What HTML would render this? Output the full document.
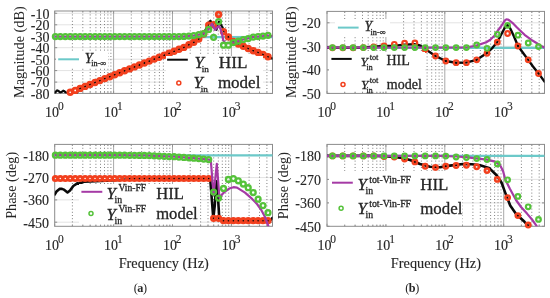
<!DOCTYPE html>
<html><head><meta charset="utf-8"><title>Figure</title>
<style>html,body{margin:0;padding:0;background:#fff;} svg{display:block;} text{stroke:#262626;stroke-width:0.12px;} text.lg{stroke-width:0.3px;}</style>
</head><body>
<svg width="550" height="298" viewBox="0 0 550 298" font-family="'Liberation Serif', serif">
<defs>
<clipPath id="cTL"><rect x="54.7" y="11.0" width="217.8" height="82.4"/></clipPath>
<clipPath id="cTR"><rect x="327.0" y="11.4" width="217.5" height="82.0"/></clipPath>
<clipPath id="cBL"><rect x="54.7" y="144.4" width="217.8" height="81.9"/></clipPath>
<clipPath id="cBR"><rect x="327.0" y="144.4" width="217.5" height="81.9"/></clipPath>
</defs>
<rect width="550" height="298" fill="#fff"/>
<line x1="54.7" y1="13.3" x2="272.5" y2="13.3" stroke="#e3e3e3" stroke-width="1"/>
<line x1="54.7" y1="24.8" x2="272.5" y2="24.8" stroke="#e3e3e3" stroke-width="1"/>
<line x1="54.7" y1="36.3" x2="272.5" y2="36.3" stroke="#e3e3e3" stroke-width="1"/>
<line x1="54.7" y1="47.7" x2="272.5" y2="47.7" stroke="#e3e3e3" stroke-width="1"/>
<line x1="54.7" y1="59.2" x2="272.5" y2="59.2" stroke="#e3e3e3" stroke-width="1"/>
<line x1="54.7" y1="70.6" x2="272.5" y2="70.6" stroke="#e3e3e3" stroke-width="1"/>
<line x1="54.7" y1="82.1" x2="272.5" y2="82.1" stroke="#e3e3e3" stroke-width="1"/>
<line x1="72.4" y1="11.2" x2="72.4" y2="93.4" stroke="#707070" stroke-width="0.9" stroke-dasharray="1 2.2"/>
<line x1="82.8" y1="11.2" x2="82.8" y2="93.4" stroke="#707070" stroke-width="0.9" stroke-dasharray="1 2.2"/>
<line x1="90.2" y1="11.2" x2="90.2" y2="93.4" stroke="#707070" stroke-width="0.9" stroke-dasharray="1 2.2"/>
<line x1="95.9" y1="11.2" x2="95.9" y2="93.4" stroke="#707070" stroke-width="0.9" stroke-dasharray="1 2.2"/>
<line x1="100.5" y1="11.2" x2="100.5" y2="93.4" stroke="#707070" stroke-width="0.9" stroke-dasharray="1 2.2"/>
<line x1="104.5" y1="11.2" x2="104.5" y2="93.4" stroke="#707070" stroke-width="0.9" stroke-dasharray="1 2.2"/>
<line x1="107.9" y1="11.2" x2="107.9" y2="93.4" stroke="#707070" stroke-width="0.9" stroke-dasharray="1 2.2"/>
<line x1="110.9" y1="11.2" x2="110.9" y2="93.4" stroke="#707070" stroke-width="0.9" stroke-dasharray="1 2.2"/>
<line x1="113.6" y1="11.0" x2="113.6" y2="93.4" stroke="#a8a8a8" stroke-width="1"/>
<line x1="131.3" y1="11.2" x2="131.3" y2="93.4" stroke="#707070" stroke-width="0.9" stroke-dasharray="1 2.2"/>
<line x1="141.7" y1="11.2" x2="141.7" y2="93.4" stroke="#707070" stroke-width="0.9" stroke-dasharray="1 2.2"/>
<line x1="149.1" y1="11.2" x2="149.1" y2="93.4" stroke="#707070" stroke-width="0.9" stroke-dasharray="1 2.2"/>
<line x1="154.8" y1="11.2" x2="154.8" y2="93.4" stroke="#707070" stroke-width="0.9" stroke-dasharray="1 2.2"/>
<line x1="159.4" y1="11.2" x2="159.4" y2="93.4" stroke="#707070" stroke-width="0.9" stroke-dasharray="1 2.2"/>
<line x1="163.4" y1="11.2" x2="163.4" y2="93.4" stroke="#707070" stroke-width="0.9" stroke-dasharray="1 2.2"/>
<line x1="166.8" y1="11.2" x2="166.8" y2="93.4" stroke="#707070" stroke-width="0.9" stroke-dasharray="1 2.2"/>
<line x1="169.8" y1="11.2" x2="169.8" y2="93.4" stroke="#707070" stroke-width="0.9" stroke-dasharray="1 2.2"/>
<line x1="172.5" y1="11.0" x2="172.5" y2="93.4" stroke="#a8a8a8" stroke-width="1"/>
<line x1="190.2" y1="11.2" x2="190.2" y2="93.4" stroke="#707070" stroke-width="0.9" stroke-dasharray="1 2.2"/>
<line x1="200.6" y1="11.2" x2="200.6" y2="93.4" stroke="#707070" stroke-width="0.9" stroke-dasharray="1 2.2"/>
<line x1="208.0" y1="11.2" x2="208.0" y2="93.4" stroke="#707070" stroke-width="0.9" stroke-dasharray="1 2.2"/>
<line x1="213.7" y1="11.2" x2="213.7" y2="93.4" stroke="#707070" stroke-width="0.9" stroke-dasharray="1 2.2"/>
<line x1="218.3" y1="11.2" x2="218.3" y2="93.4" stroke="#707070" stroke-width="0.9" stroke-dasharray="1 2.2"/>
<line x1="222.3" y1="11.2" x2="222.3" y2="93.4" stroke="#707070" stroke-width="0.9" stroke-dasharray="1 2.2"/>
<line x1="225.7" y1="11.2" x2="225.7" y2="93.4" stroke="#707070" stroke-width="0.9" stroke-dasharray="1 2.2"/>
<line x1="228.7" y1="11.2" x2="228.7" y2="93.4" stroke="#707070" stroke-width="0.9" stroke-dasharray="1 2.2"/>
<line x1="231.4" y1="11.0" x2="231.4" y2="93.4" stroke="#a8a8a8" stroke-width="1"/>
<line x1="249.1" y1="11.2" x2="249.1" y2="93.4" stroke="#707070" stroke-width="0.9" stroke-dasharray="1 2.2"/>
<line x1="259.5" y1="11.2" x2="259.5" y2="93.4" stroke="#707070" stroke-width="0.9" stroke-dasharray="1 2.2"/>
<line x1="266.9" y1="11.2" x2="266.9" y2="93.4" stroke="#707070" stroke-width="0.9" stroke-dasharray="1 2.2"/>
<rect x="54.7" y="11.0" width="217.8" height="82.4" fill="none" stroke="#8c8c8c" stroke-width="1"/>
<line x1="54.7" y1="13.3" x2="57.2" y2="13.3" stroke="#8c8c8c" stroke-width="1"/>
<line x1="270.0" y1="13.3" x2="272.5" y2="13.3" stroke="#8c8c8c" stroke-width="1"/>
<line x1="54.7" y1="24.8" x2="57.2" y2="24.8" stroke="#8c8c8c" stroke-width="1"/>
<line x1="270.0" y1="24.8" x2="272.5" y2="24.8" stroke="#8c8c8c" stroke-width="1"/>
<line x1="54.7" y1="36.3" x2="57.2" y2="36.3" stroke="#8c8c8c" stroke-width="1"/>
<line x1="270.0" y1="36.3" x2="272.5" y2="36.3" stroke="#8c8c8c" stroke-width="1"/>
<line x1="54.7" y1="47.7" x2="57.2" y2="47.7" stroke="#8c8c8c" stroke-width="1"/>
<line x1="270.0" y1="47.7" x2="272.5" y2="47.7" stroke="#8c8c8c" stroke-width="1"/>
<line x1="54.7" y1="59.2" x2="57.2" y2="59.2" stroke="#8c8c8c" stroke-width="1"/>
<line x1="270.0" y1="59.2" x2="272.5" y2="59.2" stroke="#8c8c8c" stroke-width="1"/>
<line x1="54.7" y1="70.6" x2="57.2" y2="70.6" stroke="#8c8c8c" stroke-width="1"/>
<line x1="270.0" y1="70.6" x2="272.5" y2="70.6" stroke="#8c8c8c" stroke-width="1"/>
<line x1="54.7" y1="82.1" x2="57.2" y2="82.1" stroke="#8c8c8c" stroke-width="1"/>
<line x1="270.0" y1="82.1" x2="272.5" y2="82.1" stroke="#8c8c8c" stroke-width="1"/>
<line x1="54.7" y1="93.5" x2="57.2" y2="93.5" stroke="#8c8c8c" stroke-width="1"/>
<line x1="270.0" y1="93.5" x2="272.5" y2="93.5" stroke="#8c8c8c" stroke-width="1"/>
<line x1="54.7" y1="93.4" x2="54.7" y2="90.9" stroke="#8c8c8c" stroke-width="0.8"/>
<line x1="54.7" y1="11.0" x2="54.7" y2="13.5" stroke="#8c8c8c" stroke-width="0.8"/>
<line x1="72.4" y1="93.4" x2="72.4" y2="91.9" stroke="#8c8c8c" stroke-width="0.8"/>
<line x1="72.4" y1="11.0" x2="72.4" y2="12.5" stroke="#8c8c8c" stroke-width="0.8"/>
<line x1="82.8" y1="93.4" x2="82.8" y2="91.9" stroke="#8c8c8c" stroke-width="0.8"/>
<line x1="82.8" y1="11.0" x2="82.8" y2="12.5" stroke="#8c8c8c" stroke-width="0.8"/>
<line x1="90.2" y1="93.4" x2="90.2" y2="91.9" stroke="#8c8c8c" stroke-width="0.8"/>
<line x1="90.2" y1="11.0" x2="90.2" y2="12.5" stroke="#8c8c8c" stroke-width="0.8"/>
<line x1="95.9" y1="93.4" x2="95.9" y2="91.9" stroke="#8c8c8c" stroke-width="0.8"/>
<line x1="95.9" y1="11.0" x2="95.9" y2="12.5" stroke="#8c8c8c" stroke-width="0.8"/>
<line x1="100.5" y1="93.4" x2="100.5" y2="91.9" stroke="#8c8c8c" stroke-width="0.8"/>
<line x1="100.5" y1="11.0" x2="100.5" y2="12.5" stroke="#8c8c8c" stroke-width="0.8"/>
<line x1="104.5" y1="93.4" x2="104.5" y2="91.9" stroke="#8c8c8c" stroke-width="0.8"/>
<line x1="104.5" y1="11.0" x2="104.5" y2="12.5" stroke="#8c8c8c" stroke-width="0.8"/>
<line x1="107.9" y1="93.4" x2="107.9" y2="91.9" stroke="#8c8c8c" stroke-width="0.8"/>
<line x1="107.9" y1="11.0" x2="107.9" y2="12.5" stroke="#8c8c8c" stroke-width="0.8"/>
<line x1="110.9" y1="93.4" x2="110.9" y2="91.9" stroke="#8c8c8c" stroke-width="0.8"/>
<line x1="110.9" y1="11.0" x2="110.9" y2="12.5" stroke="#8c8c8c" stroke-width="0.8"/>
<line x1="113.6" y1="93.4" x2="113.6" y2="90.9" stroke="#8c8c8c" stroke-width="0.8"/>
<line x1="113.6" y1="11.0" x2="113.6" y2="13.5" stroke="#8c8c8c" stroke-width="0.8"/>
<line x1="131.3" y1="93.4" x2="131.3" y2="91.9" stroke="#8c8c8c" stroke-width="0.8"/>
<line x1="131.3" y1="11.0" x2="131.3" y2="12.5" stroke="#8c8c8c" stroke-width="0.8"/>
<line x1="141.7" y1="93.4" x2="141.7" y2="91.9" stroke="#8c8c8c" stroke-width="0.8"/>
<line x1="141.7" y1="11.0" x2="141.7" y2="12.5" stroke="#8c8c8c" stroke-width="0.8"/>
<line x1="149.1" y1="93.4" x2="149.1" y2="91.9" stroke="#8c8c8c" stroke-width="0.8"/>
<line x1="149.1" y1="11.0" x2="149.1" y2="12.5" stroke="#8c8c8c" stroke-width="0.8"/>
<line x1="154.8" y1="93.4" x2="154.8" y2="91.9" stroke="#8c8c8c" stroke-width="0.8"/>
<line x1="154.8" y1="11.0" x2="154.8" y2="12.5" stroke="#8c8c8c" stroke-width="0.8"/>
<line x1="159.4" y1="93.4" x2="159.4" y2="91.9" stroke="#8c8c8c" stroke-width="0.8"/>
<line x1="159.4" y1="11.0" x2="159.4" y2="12.5" stroke="#8c8c8c" stroke-width="0.8"/>
<line x1="163.4" y1="93.4" x2="163.4" y2="91.9" stroke="#8c8c8c" stroke-width="0.8"/>
<line x1="163.4" y1="11.0" x2="163.4" y2="12.5" stroke="#8c8c8c" stroke-width="0.8"/>
<line x1="166.8" y1="93.4" x2="166.8" y2="91.9" stroke="#8c8c8c" stroke-width="0.8"/>
<line x1="166.8" y1="11.0" x2="166.8" y2="12.5" stroke="#8c8c8c" stroke-width="0.8"/>
<line x1="169.8" y1="93.4" x2="169.8" y2="91.9" stroke="#8c8c8c" stroke-width="0.8"/>
<line x1="169.8" y1="11.0" x2="169.8" y2="12.5" stroke="#8c8c8c" stroke-width="0.8"/>
<line x1="172.5" y1="93.4" x2="172.5" y2="90.9" stroke="#8c8c8c" stroke-width="0.8"/>
<line x1="172.5" y1="11.0" x2="172.5" y2="13.5" stroke="#8c8c8c" stroke-width="0.8"/>
<line x1="190.2" y1="93.4" x2="190.2" y2="91.9" stroke="#8c8c8c" stroke-width="0.8"/>
<line x1="190.2" y1="11.0" x2="190.2" y2="12.5" stroke="#8c8c8c" stroke-width="0.8"/>
<line x1="200.6" y1="93.4" x2="200.6" y2="91.9" stroke="#8c8c8c" stroke-width="0.8"/>
<line x1="200.6" y1="11.0" x2="200.6" y2="12.5" stroke="#8c8c8c" stroke-width="0.8"/>
<line x1="208.0" y1="93.4" x2="208.0" y2="91.9" stroke="#8c8c8c" stroke-width="0.8"/>
<line x1="208.0" y1="11.0" x2="208.0" y2="12.5" stroke="#8c8c8c" stroke-width="0.8"/>
<line x1="213.7" y1="93.4" x2="213.7" y2="91.9" stroke="#8c8c8c" stroke-width="0.8"/>
<line x1="213.7" y1="11.0" x2="213.7" y2="12.5" stroke="#8c8c8c" stroke-width="0.8"/>
<line x1="218.3" y1="93.4" x2="218.3" y2="91.9" stroke="#8c8c8c" stroke-width="0.8"/>
<line x1="218.3" y1="11.0" x2="218.3" y2="12.5" stroke="#8c8c8c" stroke-width="0.8"/>
<line x1="222.3" y1="93.4" x2="222.3" y2="91.9" stroke="#8c8c8c" stroke-width="0.8"/>
<line x1="222.3" y1="11.0" x2="222.3" y2="12.5" stroke="#8c8c8c" stroke-width="0.8"/>
<line x1="225.7" y1="93.4" x2="225.7" y2="91.9" stroke="#8c8c8c" stroke-width="0.8"/>
<line x1="225.7" y1="11.0" x2="225.7" y2="12.5" stroke="#8c8c8c" stroke-width="0.8"/>
<line x1="228.7" y1="93.4" x2="228.7" y2="91.9" stroke="#8c8c8c" stroke-width="0.8"/>
<line x1="228.7" y1="11.0" x2="228.7" y2="12.5" stroke="#8c8c8c" stroke-width="0.8"/>
<line x1="231.4" y1="93.4" x2="231.4" y2="90.9" stroke="#8c8c8c" stroke-width="0.8"/>
<line x1="231.4" y1="11.0" x2="231.4" y2="13.5" stroke="#8c8c8c" stroke-width="0.8"/>
<line x1="249.1" y1="93.4" x2="249.1" y2="91.9" stroke="#8c8c8c" stroke-width="0.8"/>
<line x1="249.1" y1="11.0" x2="249.1" y2="12.5" stroke="#8c8c8c" stroke-width="0.8"/>
<line x1="259.5" y1="93.4" x2="259.5" y2="91.9" stroke="#8c8c8c" stroke-width="0.8"/>
<line x1="259.5" y1="11.0" x2="259.5" y2="12.5" stroke="#8c8c8c" stroke-width="0.8"/>
<line x1="266.9" y1="93.4" x2="266.9" y2="91.9" stroke="#8c8c8c" stroke-width="0.8"/>
<line x1="266.9" y1="11.0" x2="266.9" y2="12.5" stroke="#8c8c8c" stroke-width="0.8"/>
<g clip-path="url(#cTL)">
<polyline points="54.7,37.2 272.5,37.2" fill="none" stroke="#6cc9c9" stroke-width="2.2" stroke-linejoin="round" stroke-linecap="round"/>
<polyline points="54.9,93.0 56.0,91.5 57.2,90.4 58.6,91.1 60.4,92.6 62.0,91.8 63.2,90.7 64.5,91.3 66.0,92.6 67.5,93.0 69.0,95.5 76.0,95.5 78.5,89.3 80.1,88.4 85.1,86.4 90.0,84.5 95.0,82.5 99.9,80.6 104.8,78.6 109.8,76.7 114.7,74.7 119.7,72.8 124.6,70.8 129.6,68.9 134.5,66.9 139.4,65.0 144.4,63.0 149.3,61.1 154.3,59.1 159.2,57.2 164.2,55.2 169.1,53.3 174.1,51.3 179.0,49.3 183.9,47.4 188.9,44.8 193.8,42.3 198.8,39.1 203.3,34.0 207.0,27.0 209.5,21.6 210.5,20.7 213.0,26.0 216.4,29.8 219.0,21.6 222.3,27.0 225.0,33.0 228.0,36.9 233.4,41.5 238.3,44.0 243.3,46.2 248.2,48.5 253.2,50.7 258.1,52.4 263.0,54.5 268.0,56.8 272.5,58.5" fill="none" stroke="#0a0a0a" stroke-width="2.2" stroke-linejoin="round" stroke-linecap="round"/>
</g>
<circle cx="70.2" cy="92.3" r="2.3" fill="none" stroke="#f2401e" stroke-width="2.8"/>
<circle cx="75.2" cy="90.4" r="2.3" fill="none" stroke="#f2401e" stroke-width="2.8"/>
<circle cx="80.1" cy="88.4" r="2.3" fill="none" stroke="#f2401e" stroke-width="2.8"/>
<circle cx="85.1" cy="86.4" r="2.3" fill="none" stroke="#f2401e" stroke-width="2.8"/>
<circle cx="90.0" cy="84.5" r="2.3" fill="none" stroke="#f2401e" stroke-width="2.8"/>
<circle cx="95.0" cy="82.5" r="2.3" fill="none" stroke="#f2401e" stroke-width="2.8"/>
<circle cx="99.9" cy="80.6" r="2.3" fill="none" stroke="#f2401e" stroke-width="2.8"/>
<circle cx="104.8" cy="78.6" r="2.3" fill="none" stroke="#f2401e" stroke-width="2.8"/>
<circle cx="109.8" cy="76.7" r="2.3" fill="none" stroke="#f2401e" stroke-width="2.8"/>
<circle cx="114.7" cy="74.7" r="2.3" fill="none" stroke="#f2401e" stroke-width="2.8"/>
<circle cx="119.7" cy="72.8" r="2.3" fill="none" stroke="#f2401e" stroke-width="2.8"/>
<circle cx="124.6" cy="70.8" r="2.3" fill="none" stroke="#f2401e" stroke-width="2.8"/>
<circle cx="129.6" cy="68.9" r="2.3" fill="none" stroke="#f2401e" stroke-width="2.8"/>
<circle cx="134.5" cy="66.9" r="2.3" fill="none" stroke="#f2401e" stroke-width="2.8"/>
<circle cx="139.4" cy="65.0" r="2.3" fill="none" stroke="#f2401e" stroke-width="2.8"/>
<circle cx="144.4" cy="63.0" r="2.3" fill="none" stroke="#f2401e" stroke-width="2.8"/>
<circle cx="149.3" cy="61.1" r="2.3" fill="none" stroke="#f2401e" stroke-width="2.8"/>
<circle cx="154.3" cy="59.1" r="2.3" fill="none" stroke="#f2401e" stroke-width="2.8"/>
<circle cx="159.2" cy="57.2" r="2.3" fill="none" stroke="#f2401e" stroke-width="2.8"/>
<circle cx="164.2" cy="55.2" r="2.3" fill="none" stroke="#f2401e" stroke-width="2.8"/>
<circle cx="169.1" cy="53.3" r="2.3" fill="none" stroke="#f2401e" stroke-width="2.8"/>
<circle cx="174.1" cy="51.3" r="2.3" fill="none" stroke="#f2401e" stroke-width="2.8"/>
<circle cx="179.0" cy="49.3" r="2.3" fill="none" stroke="#f2401e" stroke-width="2.8"/>
<circle cx="183.9" cy="47.4" r="2.3" fill="none" stroke="#f2401e" stroke-width="2.8"/>
<circle cx="188.9" cy="44.8" r="2.3" fill="none" stroke="#f2401e" stroke-width="2.8"/>
<circle cx="193.8" cy="42.3" r="2.3" fill="none" stroke="#f2401e" stroke-width="2.8"/>
<circle cx="198.8" cy="39.1" r="2.3" fill="none" stroke="#f2401e" stroke-width="2.8"/>
<circle cx="203.7" cy="34.0" r="2.3" fill="none" stroke="#f2401e" stroke-width="2.8"/>
<circle cx="208.7" cy="25.3" r="2.3" fill="none" stroke="#f2401e" stroke-width="2.8"/>
<circle cx="213.6" cy="24.8" r="2.3" fill="none" stroke="#f2401e" stroke-width="2.8"/>
<circle cx="218.6" cy="14.4" r="2.3" fill="none" stroke="#f2401e" stroke-width="2.8"/>
<circle cx="223.5" cy="31.7" r="2.3" fill="none" stroke="#f2401e" stroke-width="2.8"/>
<circle cx="228.4" cy="36.9" r="2.3" fill="none" stroke="#f2401e" stroke-width="2.8"/>
<circle cx="233.4" cy="41.5" r="2.3" fill="none" stroke="#f2401e" stroke-width="2.8"/>
<circle cx="238.3" cy="44.0" r="2.3" fill="none" stroke="#f2401e" stroke-width="2.8"/>
<circle cx="243.3" cy="46.2" r="2.3" fill="none" stroke="#f2401e" stroke-width="2.8"/>
<circle cx="248.2" cy="48.5" r="2.3" fill="none" stroke="#f2401e" stroke-width="2.8"/>
<circle cx="253.2" cy="50.7" r="2.3" fill="none" stroke="#f2401e" stroke-width="2.8"/>
<circle cx="258.1" cy="52.4" r="2.3" fill="none" stroke="#f2401e" stroke-width="2.8"/>
<circle cx="263.0" cy="54.5" r="2.3" fill="none" stroke="#f2401e" stroke-width="2.8"/>
<circle cx="268.0" cy="56.8" r="2.3" fill="none" stroke="#f2401e" stroke-width="2.8"/>
<g clip-path="url(#cTL)">
<polyline points="54.7,36.5 183.6,36.4 193.4,35.5 198.4,34.7 203.3,33.6 206.0,31.5 208.6,29.4 210.5,26.5 212.0,23.8 213.5,26.5 215.0,29.8 217.0,27.5 219.0,26.0 220.5,29.0 222.0,34.0 223.2,40.0 225.0,42.8 228.0,43.2 232.9,42.5 237.8,41.2 242.7,39.6 247.7,38.5 252.6,37.1 257.5,36.6 262.5,36.0 267.4,35.3 272.5,36.3" fill="none" stroke="#a53aa5" stroke-width="2.2" stroke-linejoin="round" stroke-linecap="round"/>
</g>
<circle cx="55.4" cy="36.5" r="2.45" fill="none" stroke="#55c23a" stroke-width="2.35"/>
<circle cx="60.3" cy="36.5" r="2.45" fill="none" stroke="#55c23a" stroke-width="2.35"/>
<circle cx="65.3" cy="36.5" r="2.45" fill="none" stroke="#55c23a" stroke-width="2.35"/>
<circle cx="70.2" cy="36.5" r="2.45" fill="none" stroke="#55c23a" stroke-width="2.35"/>
<circle cx="75.2" cy="36.5" r="2.45" fill="none" stroke="#55c23a" stroke-width="2.35"/>
<circle cx="80.1" cy="36.5" r="2.45" fill="none" stroke="#55c23a" stroke-width="2.35"/>
<circle cx="85.1" cy="36.5" r="2.45" fill="none" stroke="#55c23a" stroke-width="2.35"/>
<circle cx="90.0" cy="36.5" r="2.45" fill="none" stroke="#55c23a" stroke-width="2.35"/>
<circle cx="95.0" cy="36.5" r="2.45" fill="none" stroke="#55c23a" stroke-width="2.35"/>
<circle cx="99.9" cy="36.5" r="2.45" fill="none" stroke="#55c23a" stroke-width="2.35"/>
<circle cx="104.8" cy="36.5" r="2.45" fill="none" stroke="#55c23a" stroke-width="2.35"/>
<circle cx="109.8" cy="36.5" r="2.45" fill="none" stroke="#55c23a" stroke-width="2.35"/>
<circle cx="114.7" cy="36.5" r="2.45" fill="none" stroke="#55c23a" stroke-width="2.35"/>
<circle cx="119.7" cy="36.5" r="2.45" fill="none" stroke="#55c23a" stroke-width="2.35"/>
<circle cx="124.6" cy="36.5" r="2.45" fill="none" stroke="#55c23a" stroke-width="2.35"/>
<circle cx="129.6" cy="36.5" r="2.45" fill="none" stroke="#55c23a" stroke-width="2.35"/>
<circle cx="134.5" cy="36.5" r="2.45" fill="none" stroke="#55c23a" stroke-width="2.35"/>
<circle cx="139.4" cy="36.5" r="2.45" fill="none" stroke="#55c23a" stroke-width="2.35"/>
<circle cx="144.4" cy="36.5" r="2.45" fill="none" stroke="#55c23a" stroke-width="2.35"/>
<circle cx="149.3" cy="36.5" r="2.45" fill="none" stroke="#55c23a" stroke-width="2.35"/>
<circle cx="154.3" cy="36.5" r="2.45" fill="none" stroke="#55c23a" stroke-width="2.35"/>
<circle cx="159.2" cy="36.5" r="2.45" fill="none" stroke="#55c23a" stroke-width="2.35"/>
<circle cx="164.2" cy="36.5" r="2.45" fill="none" stroke="#55c23a" stroke-width="2.35"/>
<circle cx="169.1" cy="36.5" r="2.45" fill="none" stroke="#55c23a" stroke-width="2.35"/>
<circle cx="174.1" cy="36.5" r="2.45" fill="none" stroke="#55c23a" stroke-width="2.35"/>
<circle cx="179.0" cy="36.5" r="2.45" fill="none" stroke="#55c23a" stroke-width="2.35"/>
<circle cx="183.9" cy="36.4" r="2.45" fill="none" stroke="#55c23a" stroke-width="2.35"/>
<circle cx="188.9" cy="36.1" r="2.45" fill="none" stroke="#55c23a" stroke-width="2.35"/>
<circle cx="193.8" cy="35.5" r="2.45" fill="none" stroke="#55c23a" stroke-width="2.35"/>
<circle cx="198.8" cy="34.7" r="2.45" fill="none" stroke="#55c23a" stroke-width="2.35"/>
<circle cx="203.7" cy="33.6" r="2.45" fill="none" stroke="#55c23a" stroke-width="2.35"/>
<circle cx="208.7" cy="29.4" r="2.45" fill="none" stroke="#55c23a" stroke-width="2.35"/>
<circle cx="213.6" cy="37.3" r="2.45" fill="none" stroke="#55c23a" stroke-width="2.35"/>
<circle cx="218.6" cy="21.6" r="2.45" fill="none" stroke="#55c23a" stroke-width="2.35"/>
<circle cx="223.5" cy="45.2" r="2.45" fill="none" stroke="#55c23a" stroke-width="2.35"/>
<circle cx="228.4" cy="45.2" r="2.45" fill="none" stroke="#55c23a" stroke-width="2.35"/>
<circle cx="233.4" cy="42.5" r="2.45" fill="none" stroke="#55c23a" stroke-width="2.35"/>
<circle cx="238.3" cy="41.2" r="2.45" fill="none" stroke="#55c23a" stroke-width="2.35"/>
<circle cx="243.3" cy="39.6" r="2.45" fill="none" stroke="#55c23a" stroke-width="2.35"/>
<circle cx="248.2" cy="38.5" r="2.45" fill="none" stroke="#55c23a" stroke-width="2.35"/>
<circle cx="253.2" cy="37.1" r="2.45" fill="none" stroke="#55c23a" stroke-width="2.35"/>
<circle cx="258.1" cy="36.6" r="2.45" fill="none" stroke="#55c23a" stroke-width="2.35"/>
<circle cx="263.0" cy="36.0" r="2.45" fill="none" stroke="#55c23a" stroke-width="2.35"/>
<circle cx="268.0" cy="35.3" r="2.45" fill="none" stroke="#55c23a" stroke-width="2.35"/>
<text x="49.5" y="18.6" font-size="14" text-anchor="end" fill="#262626">-10</text>
<text x="49.5" y="30.1" font-size="14" text-anchor="end" fill="#262626">-20</text>
<text x="49.5" y="41.6" font-size="14" text-anchor="end" fill="#262626">-30</text>
<text x="49.5" y="53.0" font-size="14" text-anchor="end" fill="#262626">-40</text>
<text x="49.5" y="64.5" font-size="14" text-anchor="end" fill="#262626">-50</text>
<text x="49.5" y="75.9" font-size="14" text-anchor="end" fill="#262626">-60</text>
<text x="49.5" y="87.4" font-size="14" text-anchor="end" fill="#262626">-70</text>
<text x="49.5" y="98.8" font-size="14" text-anchor="end" fill="#262626">-80</text>
<text x="45.1" y="117.1" font-size="14" fill="#262626">10</text>
<text x="58.0" y="109.9" font-size="11.5" fill="#262626">0</text>
<text x="104.0" y="117.1" font-size="14" fill="#262626">10</text>
<text x="116.9" y="109.9" font-size="11.5" fill="#262626">1</text>
<text x="162.9" y="117.1" font-size="14" fill="#262626">10</text>
<text x="175.8" y="109.9" font-size="11.5" fill="#262626">2</text>
<text x="221.8" y="117.1" font-size="14" fill="#262626">10</text>
<text x="234.7" y="109.9" font-size="11.5" fill="#262626">3</text>
<text x="23.8" y="52.1" font-size="14.3" text-anchor="middle" fill="#262626" style="stroke:none" transform="rotate(-90 23.8 52.1)">Magnitude (dB)</text>
<rect x="56" y="52" width="52" height="15" fill="#fff"/>
<polyline points="58.2,59.3 79.0,59.3" fill="none" stroke="#6cc9c9" stroke-width="2" stroke-linejoin="round" stroke-linecap="butt"/>
<text class="lg" x="84.8" y="63.1" font-size="14" font-style="italic" fill="#262626">Y</text>
<text class="lg" x="91.2" y="66.0" font-size="8.2" fill="#262626">in-∞</text>
<rect x="166" y="56" width="97" height="35.5" fill="#fff"/>
<polyline points="167.1,59.7 187.8,59.7" fill="none" stroke="#0a0a0a" stroke-width="2" stroke-linejoin="round" stroke-linecap="butt"/>
<text class="lg" x="194.6" y="68.0" font-size="16.8" font-style="italic" fill="#262626">Y</text>
<text class="lg" x="201.8" y="72.1" font-size="9.2" fill="#262626">in</text>
<text class="lg" x="218.8" y="67.8" font-size="17.2" fill="#262626">HIL</text>
<circle cx="178.8" cy="83.1" r="2.0" fill="none" stroke="#f2401e" stroke-width="1.5"/>
<text class="lg" x="193.6" y="88.0" font-size="16.8" font-style="italic" fill="#262626">Y</text>
<text class="lg" x="200.8" y="91.6" font-size="9.2" fill="#262626">in</text>
<text class="lg" x="217.9" y="87.7" font-size="17.0" fill="#262626">model</text>
<line x1="327.0" y1="22.8" x2="544.5" y2="22.8" stroke="#e3e3e3" stroke-width="1"/>
<line x1="327.0" y1="46.3" x2="544.5" y2="46.3" stroke="#e3e3e3" stroke-width="1"/>
<line x1="327.0" y1="69.9" x2="544.5" y2="69.9" stroke="#e3e3e3" stroke-width="1"/>
<line x1="344.7" y1="11.6" x2="344.7" y2="93.4" stroke="#707070" stroke-width="0.9" stroke-dasharray="1 2.2"/>
<line x1="355.1" y1="11.6" x2="355.1" y2="93.4" stroke="#707070" stroke-width="0.9" stroke-dasharray="1 2.2"/>
<line x1="362.5" y1="11.6" x2="362.5" y2="93.4" stroke="#707070" stroke-width="0.9" stroke-dasharray="1 2.2"/>
<line x1="368.2" y1="11.6" x2="368.2" y2="93.4" stroke="#707070" stroke-width="0.9" stroke-dasharray="1 2.2"/>
<line x1="372.8" y1="11.6" x2="372.8" y2="93.4" stroke="#707070" stroke-width="0.9" stroke-dasharray="1 2.2"/>
<line x1="376.8" y1="11.6" x2="376.8" y2="93.4" stroke="#707070" stroke-width="0.9" stroke-dasharray="1 2.2"/>
<line x1="380.2" y1="11.6" x2="380.2" y2="93.4" stroke="#707070" stroke-width="0.9" stroke-dasharray="1 2.2"/>
<line x1="383.2" y1="11.6" x2="383.2" y2="93.4" stroke="#707070" stroke-width="0.9" stroke-dasharray="1 2.2"/>
<line x1="385.9" y1="11.4" x2="385.9" y2="93.4" stroke="#a8a8a8" stroke-width="1"/>
<line x1="403.6" y1="11.6" x2="403.6" y2="93.4" stroke="#707070" stroke-width="0.9" stroke-dasharray="1 2.2"/>
<line x1="414.0" y1="11.6" x2="414.0" y2="93.4" stroke="#707070" stroke-width="0.9" stroke-dasharray="1 2.2"/>
<line x1="421.4" y1="11.6" x2="421.4" y2="93.4" stroke="#707070" stroke-width="0.9" stroke-dasharray="1 2.2"/>
<line x1="427.1" y1="11.6" x2="427.1" y2="93.4" stroke="#707070" stroke-width="0.9" stroke-dasharray="1 2.2"/>
<line x1="431.7" y1="11.6" x2="431.7" y2="93.4" stroke="#707070" stroke-width="0.9" stroke-dasharray="1 2.2"/>
<line x1="435.7" y1="11.6" x2="435.7" y2="93.4" stroke="#707070" stroke-width="0.9" stroke-dasharray="1 2.2"/>
<line x1="439.1" y1="11.6" x2="439.1" y2="93.4" stroke="#707070" stroke-width="0.9" stroke-dasharray="1 2.2"/>
<line x1="442.1" y1="11.6" x2="442.1" y2="93.4" stroke="#707070" stroke-width="0.9" stroke-dasharray="1 2.2"/>
<line x1="444.8" y1="11.4" x2="444.8" y2="93.4" stroke="#a8a8a8" stroke-width="1"/>
<line x1="462.5" y1="11.6" x2="462.5" y2="93.4" stroke="#707070" stroke-width="0.9" stroke-dasharray="1 2.2"/>
<line x1="472.9" y1="11.6" x2="472.9" y2="93.4" stroke="#707070" stroke-width="0.9" stroke-dasharray="1 2.2"/>
<line x1="480.3" y1="11.6" x2="480.3" y2="93.4" stroke="#707070" stroke-width="0.9" stroke-dasharray="1 2.2"/>
<line x1="486.0" y1="11.6" x2="486.0" y2="93.4" stroke="#707070" stroke-width="0.9" stroke-dasharray="1 2.2"/>
<line x1="490.6" y1="11.6" x2="490.6" y2="93.4" stroke="#707070" stroke-width="0.9" stroke-dasharray="1 2.2"/>
<line x1="494.6" y1="11.6" x2="494.6" y2="93.4" stroke="#707070" stroke-width="0.9" stroke-dasharray="1 2.2"/>
<line x1="498.0" y1="11.6" x2="498.0" y2="93.4" stroke="#707070" stroke-width="0.9" stroke-dasharray="1 2.2"/>
<line x1="501.0" y1="11.6" x2="501.0" y2="93.4" stroke="#707070" stroke-width="0.9" stroke-dasharray="1 2.2"/>
<line x1="503.7" y1="11.4" x2="503.7" y2="93.4" stroke="#a8a8a8" stroke-width="1"/>
<line x1="521.4" y1="11.6" x2="521.4" y2="93.4" stroke="#707070" stroke-width="0.9" stroke-dasharray="1 2.2"/>
<line x1="531.8" y1="11.6" x2="531.8" y2="93.4" stroke="#707070" stroke-width="0.9" stroke-dasharray="1 2.2"/>
<line x1="539.2" y1="11.6" x2="539.2" y2="93.4" stroke="#707070" stroke-width="0.9" stroke-dasharray="1 2.2"/>
<rect x="327.0" y="11.4" width="217.5" height="82.0" fill="none" stroke="#8c8c8c" stroke-width="1"/>
<line x1="327.0" y1="22.8" x2="329.5" y2="22.8" stroke="#8c8c8c" stroke-width="1"/>
<line x1="542.0" y1="22.8" x2="544.5" y2="22.8" stroke="#8c8c8c" stroke-width="1"/>
<line x1="327.0" y1="46.3" x2="329.5" y2="46.3" stroke="#8c8c8c" stroke-width="1"/>
<line x1="542.0" y1="46.3" x2="544.5" y2="46.3" stroke="#8c8c8c" stroke-width="1"/>
<line x1="327.0" y1="69.9" x2="329.5" y2="69.9" stroke="#8c8c8c" stroke-width="1"/>
<line x1="542.0" y1="69.9" x2="544.5" y2="69.9" stroke="#8c8c8c" stroke-width="1"/>
<line x1="327.0" y1="93.4" x2="329.5" y2="93.4" stroke="#8c8c8c" stroke-width="1"/>
<line x1="542.0" y1="93.4" x2="544.5" y2="93.4" stroke="#8c8c8c" stroke-width="1"/>
<line x1="327.0" y1="93.4" x2="327.0" y2="90.9" stroke="#8c8c8c" stroke-width="0.8"/>
<line x1="327.0" y1="11.4" x2="327.0" y2="13.9" stroke="#8c8c8c" stroke-width="0.8"/>
<line x1="344.7" y1="93.4" x2="344.7" y2="91.9" stroke="#8c8c8c" stroke-width="0.8"/>
<line x1="344.7" y1="11.4" x2="344.7" y2="12.9" stroke="#8c8c8c" stroke-width="0.8"/>
<line x1="355.1" y1="93.4" x2="355.1" y2="91.9" stroke="#8c8c8c" stroke-width="0.8"/>
<line x1="355.1" y1="11.4" x2="355.1" y2="12.9" stroke="#8c8c8c" stroke-width="0.8"/>
<line x1="362.5" y1="93.4" x2="362.5" y2="91.9" stroke="#8c8c8c" stroke-width="0.8"/>
<line x1="362.5" y1="11.4" x2="362.5" y2="12.9" stroke="#8c8c8c" stroke-width="0.8"/>
<line x1="368.2" y1="93.4" x2="368.2" y2="91.9" stroke="#8c8c8c" stroke-width="0.8"/>
<line x1="368.2" y1="11.4" x2="368.2" y2="12.9" stroke="#8c8c8c" stroke-width="0.8"/>
<line x1="372.8" y1="93.4" x2="372.8" y2="91.9" stroke="#8c8c8c" stroke-width="0.8"/>
<line x1="372.8" y1="11.4" x2="372.8" y2="12.9" stroke="#8c8c8c" stroke-width="0.8"/>
<line x1="376.8" y1="93.4" x2="376.8" y2="91.9" stroke="#8c8c8c" stroke-width="0.8"/>
<line x1="376.8" y1="11.4" x2="376.8" y2="12.9" stroke="#8c8c8c" stroke-width="0.8"/>
<line x1="380.2" y1="93.4" x2="380.2" y2="91.9" stroke="#8c8c8c" stroke-width="0.8"/>
<line x1="380.2" y1="11.4" x2="380.2" y2="12.9" stroke="#8c8c8c" stroke-width="0.8"/>
<line x1="383.2" y1="93.4" x2="383.2" y2="91.9" stroke="#8c8c8c" stroke-width="0.8"/>
<line x1="383.2" y1="11.4" x2="383.2" y2="12.9" stroke="#8c8c8c" stroke-width="0.8"/>
<line x1="385.9" y1="93.4" x2="385.9" y2="90.9" stroke="#8c8c8c" stroke-width="0.8"/>
<line x1="385.9" y1="11.4" x2="385.9" y2="13.9" stroke="#8c8c8c" stroke-width="0.8"/>
<line x1="403.6" y1="93.4" x2="403.6" y2="91.9" stroke="#8c8c8c" stroke-width="0.8"/>
<line x1="403.6" y1="11.4" x2="403.6" y2="12.9" stroke="#8c8c8c" stroke-width="0.8"/>
<line x1="414.0" y1="93.4" x2="414.0" y2="91.9" stroke="#8c8c8c" stroke-width="0.8"/>
<line x1="414.0" y1="11.4" x2="414.0" y2="12.9" stroke="#8c8c8c" stroke-width="0.8"/>
<line x1="421.4" y1="93.4" x2="421.4" y2="91.9" stroke="#8c8c8c" stroke-width="0.8"/>
<line x1="421.4" y1="11.4" x2="421.4" y2="12.9" stroke="#8c8c8c" stroke-width="0.8"/>
<line x1="427.1" y1="93.4" x2="427.1" y2="91.9" stroke="#8c8c8c" stroke-width="0.8"/>
<line x1="427.1" y1="11.4" x2="427.1" y2="12.9" stroke="#8c8c8c" stroke-width="0.8"/>
<line x1="431.7" y1="93.4" x2="431.7" y2="91.9" stroke="#8c8c8c" stroke-width="0.8"/>
<line x1="431.7" y1="11.4" x2="431.7" y2="12.9" stroke="#8c8c8c" stroke-width="0.8"/>
<line x1="435.7" y1="93.4" x2="435.7" y2="91.9" stroke="#8c8c8c" stroke-width="0.8"/>
<line x1="435.7" y1="11.4" x2="435.7" y2="12.9" stroke="#8c8c8c" stroke-width="0.8"/>
<line x1="439.1" y1="93.4" x2="439.1" y2="91.9" stroke="#8c8c8c" stroke-width="0.8"/>
<line x1="439.1" y1="11.4" x2="439.1" y2="12.9" stroke="#8c8c8c" stroke-width="0.8"/>
<line x1="442.1" y1="93.4" x2="442.1" y2="91.9" stroke="#8c8c8c" stroke-width="0.8"/>
<line x1="442.1" y1="11.4" x2="442.1" y2="12.9" stroke="#8c8c8c" stroke-width="0.8"/>
<line x1="444.8" y1="93.4" x2="444.8" y2="90.9" stroke="#8c8c8c" stroke-width="0.8"/>
<line x1="444.8" y1="11.4" x2="444.8" y2="13.9" stroke="#8c8c8c" stroke-width="0.8"/>
<line x1="462.5" y1="93.4" x2="462.5" y2="91.9" stroke="#8c8c8c" stroke-width="0.8"/>
<line x1="462.5" y1="11.4" x2="462.5" y2="12.9" stroke="#8c8c8c" stroke-width="0.8"/>
<line x1="472.9" y1="93.4" x2="472.9" y2="91.9" stroke="#8c8c8c" stroke-width="0.8"/>
<line x1="472.9" y1="11.4" x2="472.9" y2="12.9" stroke="#8c8c8c" stroke-width="0.8"/>
<line x1="480.3" y1="93.4" x2="480.3" y2="91.9" stroke="#8c8c8c" stroke-width="0.8"/>
<line x1="480.3" y1="11.4" x2="480.3" y2="12.9" stroke="#8c8c8c" stroke-width="0.8"/>
<line x1="486.0" y1="93.4" x2="486.0" y2="91.9" stroke="#8c8c8c" stroke-width="0.8"/>
<line x1="486.0" y1="11.4" x2="486.0" y2="12.9" stroke="#8c8c8c" stroke-width="0.8"/>
<line x1="490.6" y1="93.4" x2="490.6" y2="91.9" stroke="#8c8c8c" stroke-width="0.8"/>
<line x1="490.6" y1="11.4" x2="490.6" y2="12.9" stroke="#8c8c8c" stroke-width="0.8"/>
<line x1="494.6" y1="93.4" x2="494.6" y2="91.9" stroke="#8c8c8c" stroke-width="0.8"/>
<line x1="494.6" y1="11.4" x2="494.6" y2="12.9" stroke="#8c8c8c" stroke-width="0.8"/>
<line x1="498.0" y1="93.4" x2="498.0" y2="91.9" stroke="#8c8c8c" stroke-width="0.8"/>
<line x1="498.0" y1="11.4" x2="498.0" y2="12.9" stroke="#8c8c8c" stroke-width="0.8"/>
<line x1="501.0" y1="93.4" x2="501.0" y2="91.9" stroke="#8c8c8c" stroke-width="0.8"/>
<line x1="501.0" y1="11.4" x2="501.0" y2="12.9" stroke="#8c8c8c" stroke-width="0.8"/>
<line x1="503.7" y1="93.4" x2="503.7" y2="90.9" stroke="#8c8c8c" stroke-width="0.8"/>
<line x1="503.7" y1="11.4" x2="503.7" y2="13.9" stroke="#8c8c8c" stroke-width="0.8"/>
<line x1="521.4" y1="93.4" x2="521.4" y2="91.9" stroke="#8c8c8c" stroke-width="0.8"/>
<line x1="521.4" y1="11.4" x2="521.4" y2="12.9" stroke="#8c8c8c" stroke-width="0.8"/>
<line x1="531.8" y1="93.4" x2="531.8" y2="91.9" stroke="#8c8c8c" stroke-width="0.8"/>
<line x1="531.8" y1="11.4" x2="531.8" y2="12.9" stroke="#8c8c8c" stroke-width="0.8"/>
<line x1="539.2" y1="93.4" x2="539.2" y2="91.9" stroke="#8c8c8c" stroke-width="0.8"/>
<line x1="539.2" y1="11.4" x2="539.2" y2="12.9" stroke="#8c8c8c" stroke-width="0.8"/>
<g clip-path="url(#cTR)">
<polyline points="327.0,47.9 544.5,47.9" fill="none" stroke="#6cc9c9" stroke-width="2.2" stroke-linejoin="round" stroke-linecap="round"/>
<polyline points="327.0,47.8 360.0,47.8 373.0,46.8 384.0,46.0 395.0,45.6 405.0,44.6 414.0,44.2 420.0,45.5 425.2,49.0 435.5,56.0 445.8,61.0 456.0,62.8 466.0,62.6 476.7,59.8 487.0,53.0 492.5,47.8 497.3,42.0 501.5,34.0 504.5,28.3 506.5,25.6 507.6,25.2 509.0,26.3 510.5,29.0 514.0,36.5 517.9,45.8 522.0,51.5 528.0,59.6 533.0,66.5 538.5,73.4 544.5,81.6" fill="none" stroke="#0a0a0a" stroke-width="2.4" stroke-linejoin="round" stroke-linecap="round"/>
</g>
<circle cx="332.5" cy="47.8" r="2.3" fill="none" stroke="#f2401e" stroke-width="2.2"/>
<circle cx="342.8" cy="47.8" r="2.3" fill="none" stroke="#f2401e" stroke-width="2.2"/>
<circle cx="353.1" cy="47.8" r="2.3" fill="none" stroke="#f2401e" stroke-width="2.2"/>
<circle cx="363.4" cy="47.6" r="2.3" fill="none" stroke="#f2401e" stroke-width="2.2"/>
<circle cx="373.7" cy="47.0" r="2.3" fill="none" stroke="#f2401e" stroke-width="2.2"/>
<circle cx="384.0" cy="45.8" r="2.3" fill="none" stroke="#f2401e" stroke-width="2.2"/>
<circle cx="394.3" cy="44.3" r="2.3" fill="none" stroke="#f2401e" stroke-width="2.2"/>
<circle cx="404.6" cy="43.2" r="2.3" fill="none" stroke="#f2401e" stroke-width="2.2"/>
<circle cx="414.9" cy="42.9" r="2.3" fill="none" stroke="#f2401e" stroke-width="2.2"/>
<circle cx="425.2" cy="49.5" r="2.3" fill="none" stroke="#f2401e" stroke-width="2.2"/>
<circle cx="435.5" cy="56.0" r="2.3" fill="none" stroke="#f2401e" stroke-width="2.2"/>
<circle cx="445.8" cy="61.0" r="2.3" fill="none" stroke="#f2401e" stroke-width="2.2"/>
<circle cx="456.1" cy="62.7" r="2.3" fill="none" stroke="#f2401e" stroke-width="2.2"/>
<circle cx="466.4" cy="62.7" r="2.3" fill="none" stroke="#f2401e" stroke-width="2.2"/>
<circle cx="476.7" cy="59.8" r="2.3" fill="none" stroke="#f2401e" stroke-width="2.2"/>
<circle cx="487.0" cy="53.3" r="2.3" fill="none" stroke="#f2401e" stroke-width="2.2"/>
<circle cx="497.3" cy="42.2" r="2.3" fill="none" stroke="#f2401e" stroke-width="2.2"/>
<circle cx="507.6" cy="33.5" r="2.3" fill="none" stroke="#f2401e" stroke-width="2.2"/>
<circle cx="517.9" cy="46.0" r="2.3" fill="none" stroke="#f2401e" stroke-width="2.2"/>
<circle cx="528.2" cy="59.8" r="2.3" fill="none" stroke="#f2401e" stroke-width="2.2"/>
<circle cx="538.5" cy="73.5" r="2.3" fill="none" stroke="#f2401e" stroke-width="2.2"/>
<g clip-path="url(#cTR)">
<polyline points="327.0,47.6 466.0,47.5 476.4,45.6 486.2,42.3 490.0,40.0 494.4,35.8 497.5,31.0 501.0,26.5 503.5,22.5 505.2,20.2 506.5,19.3 507.8,19.5 509.5,20.5 512.4,22.8 516.5,27.0 520.6,31.0 524.6,34.8 528.7,37.8 532.8,40.8 536.9,43.2 540.7,45.6 544.5,47.7" fill="none" stroke="#a53aa5" stroke-width="2.2" stroke-linejoin="round" stroke-linecap="round"/>
</g>
<circle cx="332.5" cy="47.6" r="2.3" fill="none" stroke="#55c23a" stroke-width="2.2"/>
<circle cx="342.8" cy="47.6" r="2.3" fill="none" stroke="#55c23a" stroke-width="2.2"/>
<circle cx="353.1" cy="47.6" r="2.3" fill="none" stroke="#55c23a" stroke-width="2.2"/>
<circle cx="363.4" cy="47.6" r="2.3" fill="none" stroke="#55c23a" stroke-width="2.2"/>
<circle cx="373.7" cy="47.6" r="2.3" fill="none" stroke="#55c23a" stroke-width="2.2"/>
<circle cx="384.0" cy="47.6" r="2.3" fill="none" stroke="#55c23a" stroke-width="2.2"/>
<circle cx="394.3" cy="47.6" r="2.3" fill="none" stroke="#55c23a" stroke-width="2.2"/>
<circle cx="404.6" cy="47.6" r="2.3" fill="none" stroke="#55c23a" stroke-width="2.2"/>
<circle cx="414.9" cy="47.6" r="2.3" fill="none" stroke="#55c23a" stroke-width="2.2"/>
<circle cx="425.2" cy="47.6" r="2.3" fill="none" stroke="#55c23a" stroke-width="2.2"/>
<circle cx="435.5" cy="47.6" r="2.3" fill="none" stroke="#55c23a" stroke-width="2.2"/>
<circle cx="445.8" cy="47.6" r="2.3" fill="none" stroke="#55c23a" stroke-width="2.2"/>
<circle cx="456.1" cy="47.6" r="2.3" fill="none" stroke="#55c23a" stroke-width="2.2"/>
<circle cx="466.4" cy="47.6" r="2.3" fill="none" stroke="#55c23a" stroke-width="2.2"/>
<circle cx="476.7" cy="45.0" r="2.3" fill="none" stroke="#55c23a" stroke-width="2.2"/>
<circle cx="487.0" cy="48.3" r="2.3" fill="none" stroke="#55c23a" stroke-width="2.2"/>
<circle cx="497.3" cy="34.3" r="2.3" fill="none" stroke="#55c23a" stroke-width="2.2"/>
<circle cx="507.6" cy="25.4" r="2.3" fill="none" stroke="#55c23a" stroke-width="2.2"/>
<circle cx="517.9" cy="35.2" r="2.3" fill="none" stroke="#55c23a" stroke-width="2.2"/>
<circle cx="528.2" cy="43.0" r="2.3" fill="none" stroke="#55c23a" stroke-width="2.2"/>
<circle cx="538.5" cy="46.6" r="2.3" fill="none" stroke="#55c23a" stroke-width="2.2"/>
<text x="320.8" y="28.1" font-size="14" text-anchor="end" fill="#262626">-20</text>
<text x="320.8" y="51.6" font-size="14" text-anchor="end" fill="#262626">-30</text>
<text x="320.8" y="75.2" font-size="14" text-anchor="end" fill="#262626">-40</text>
<text x="320.8" y="98.7" font-size="14" text-anchor="end" fill="#262626">-50</text>
<text x="317.4" y="117.1" font-size="14" fill="#262626">10</text>
<text x="330.3" y="109.9" font-size="11.5" fill="#262626">0</text>
<text x="376.3" y="117.1" font-size="14" fill="#262626">10</text>
<text x="389.2" y="109.9" font-size="11.5" fill="#262626">1</text>
<text x="435.2" y="117.1" font-size="14" fill="#262626">10</text>
<text x="448.1" y="109.9" font-size="11.5" fill="#262626">2</text>
<text x="494.1" y="117.1" font-size="14" fill="#262626">10</text>
<text x="507.0" y="109.9" font-size="11.5" fill="#262626">3</text>
<text x="295.8" y="52.1" font-size="14.3" text-anchor="middle" fill="#262626" style="stroke:none" transform="rotate(-90 295.8 52.1)">Magnitude (dB)</text>
<rect x="335" y="19" width="55" height="18" fill="#fff"/>
<polyline points="337.9,27.6 358.6,27.6" fill="none" stroke="#6cc9c9" stroke-width="2" stroke-linejoin="round" stroke-linecap="butt"/>
<text class="lg" x="364.4" y="31.2" font-size="13.6" font-style="italic" fill="#262626">Y</text>
<text class="lg" x="370.6" y="34.7" font-size="8.2" fill="#262626">in-∞</text>
<rect x="329" y="52" width="96" height="39.5" fill="#fff"/>
<polyline points="331.4,58.9 351.7,58.9" fill="none" stroke="#0a0a0a" stroke-width="2" stroke-linejoin="round" stroke-linecap="butt"/>
<text class="lg" x="360.4" y="66.0" font-size="13.4" font-style="italic" fill="#262626">Y</text>
<text class="lg" x="369.7" y="60.0" font-size="8.2" fill="#262626">tot</text>
<text class="lg" x="366.6" y="69.6" font-size="7.8" fill="#262626">in</text>
<text class="lg" x="386.4" y="65.4" font-size="14" fill="#262626">HIL</text>
<circle cx="343.0" cy="84.5" r="2.0" fill="none" stroke="#f2401e" stroke-width="1.5"/>
<text class="lg" x="360.9" y="89.3" font-size="13.4" font-style="italic" fill="#262626">Y</text>
<text class="lg" x="369.7" y="83.3" font-size="8.2" fill="#262626">tot</text>
<text class="lg" x="366.6" y="92.8" font-size="7.8" fill="#262626">in</text>
<text class="lg" x="386.8" y="88.7" font-size="14" fill="#262626">model</text>
<line x1="54.7" y1="155.3" x2="272.5" y2="155.3" stroke="#e3e3e3" stroke-width="1"/>
<line x1="54.7" y1="177.6" x2="272.5" y2="177.6" stroke="#e3e3e3" stroke-width="1"/>
<line x1="54.7" y1="199.9" x2="272.5" y2="199.9" stroke="#e3e3e3" stroke-width="1"/>
<line x1="54.7" y1="222.2" x2="272.5" y2="222.2" stroke="#e3e3e3" stroke-width="1"/>
<line x1="72.4" y1="144.6" x2="72.4" y2="226.3" stroke="#707070" stroke-width="0.9" stroke-dasharray="1 2.2"/>
<line x1="82.8" y1="144.6" x2="82.8" y2="226.3" stroke="#707070" stroke-width="0.9" stroke-dasharray="1 2.2"/>
<line x1="90.2" y1="144.6" x2="90.2" y2="226.3" stroke="#707070" stroke-width="0.9" stroke-dasharray="1 2.2"/>
<line x1="95.9" y1="144.6" x2="95.9" y2="226.3" stroke="#707070" stroke-width="0.9" stroke-dasharray="1 2.2"/>
<line x1="100.5" y1="144.6" x2="100.5" y2="226.3" stroke="#707070" stroke-width="0.9" stroke-dasharray="1 2.2"/>
<line x1="104.5" y1="144.6" x2="104.5" y2="226.3" stroke="#707070" stroke-width="0.9" stroke-dasharray="1 2.2"/>
<line x1="107.9" y1="144.6" x2="107.9" y2="226.3" stroke="#707070" stroke-width="0.9" stroke-dasharray="1 2.2"/>
<line x1="110.9" y1="144.6" x2="110.9" y2="226.3" stroke="#707070" stroke-width="0.9" stroke-dasharray="1 2.2"/>
<line x1="113.6" y1="144.4" x2="113.6" y2="226.3" stroke="#a8a8a8" stroke-width="1"/>
<line x1="131.3" y1="144.6" x2="131.3" y2="226.3" stroke="#707070" stroke-width="0.9" stroke-dasharray="1 2.2"/>
<line x1="141.7" y1="144.6" x2="141.7" y2="226.3" stroke="#707070" stroke-width="0.9" stroke-dasharray="1 2.2"/>
<line x1="149.1" y1="144.6" x2="149.1" y2="226.3" stroke="#707070" stroke-width="0.9" stroke-dasharray="1 2.2"/>
<line x1="154.8" y1="144.6" x2="154.8" y2="226.3" stroke="#707070" stroke-width="0.9" stroke-dasharray="1 2.2"/>
<line x1="159.4" y1="144.6" x2="159.4" y2="226.3" stroke="#707070" stroke-width="0.9" stroke-dasharray="1 2.2"/>
<line x1="163.4" y1="144.6" x2="163.4" y2="226.3" stroke="#707070" stroke-width="0.9" stroke-dasharray="1 2.2"/>
<line x1="166.8" y1="144.6" x2="166.8" y2="226.3" stroke="#707070" stroke-width="0.9" stroke-dasharray="1 2.2"/>
<line x1="169.8" y1="144.6" x2="169.8" y2="226.3" stroke="#707070" stroke-width="0.9" stroke-dasharray="1 2.2"/>
<line x1="172.5" y1="144.4" x2="172.5" y2="226.3" stroke="#a8a8a8" stroke-width="1"/>
<line x1="190.2" y1="144.6" x2="190.2" y2="226.3" stroke="#707070" stroke-width="0.9" stroke-dasharray="1 2.2"/>
<line x1="200.6" y1="144.6" x2="200.6" y2="226.3" stroke="#707070" stroke-width="0.9" stroke-dasharray="1 2.2"/>
<line x1="208.0" y1="144.6" x2="208.0" y2="226.3" stroke="#707070" stroke-width="0.9" stroke-dasharray="1 2.2"/>
<line x1="213.7" y1="144.6" x2="213.7" y2="226.3" stroke="#707070" stroke-width="0.9" stroke-dasharray="1 2.2"/>
<line x1="218.3" y1="144.6" x2="218.3" y2="226.3" stroke="#707070" stroke-width="0.9" stroke-dasharray="1 2.2"/>
<line x1="222.3" y1="144.6" x2="222.3" y2="226.3" stroke="#707070" stroke-width="0.9" stroke-dasharray="1 2.2"/>
<line x1="225.7" y1="144.6" x2="225.7" y2="226.3" stroke="#707070" stroke-width="0.9" stroke-dasharray="1 2.2"/>
<line x1="228.7" y1="144.6" x2="228.7" y2="226.3" stroke="#707070" stroke-width="0.9" stroke-dasharray="1 2.2"/>
<line x1="231.4" y1="144.4" x2="231.4" y2="226.3" stroke="#a8a8a8" stroke-width="1"/>
<line x1="249.1" y1="144.6" x2="249.1" y2="226.3" stroke="#707070" stroke-width="0.9" stroke-dasharray="1 2.2"/>
<line x1="259.5" y1="144.6" x2="259.5" y2="226.3" stroke="#707070" stroke-width="0.9" stroke-dasharray="1 2.2"/>
<line x1="266.9" y1="144.6" x2="266.9" y2="226.3" stroke="#707070" stroke-width="0.9" stroke-dasharray="1 2.2"/>
<rect x="54.7" y="144.4" width="217.8" height="81.9" fill="none" stroke="#8c8c8c" stroke-width="1"/>
<line x1="54.7" y1="155.3" x2="57.2" y2="155.3" stroke="#8c8c8c" stroke-width="1"/>
<line x1="270.0" y1="155.3" x2="272.5" y2="155.3" stroke="#8c8c8c" stroke-width="1"/>
<line x1="54.7" y1="177.6" x2="57.2" y2="177.6" stroke="#8c8c8c" stroke-width="1"/>
<line x1="270.0" y1="177.6" x2="272.5" y2="177.6" stroke="#8c8c8c" stroke-width="1"/>
<line x1="54.7" y1="199.9" x2="57.2" y2="199.9" stroke="#8c8c8c" stroke-width="1"/>
<line x1="270.0" y1="199.9" x2="272.5" y2="199.9" stroke="#8c8c8c" stroke-width="1"/>
<line x1="54.7" y1="222.2" x2="57.2" y2="222.2" stroke="#8c8c8c" stroke-width="1"/>
<line x1="270.0" y1="222.2" x2="272.5" y2="222.2" stroke="#8c8c8c" stroke-width="1"/>
<line x1="54.7" y1="226.3" x2="54.7" y2="223.8" stroke="#8c8c8c" stroke-width="0.8"/>
<line x1="54.7" y1="144.4" x2="54.7" y2="146.9" stroke="#8c8c8c" stroke-width="0.8"/>
<line x1="72.4" y1="226.3" x2="72.4" y2="224.8" stroke="#8c8c8c" stroke-width="0.8"/>
<line x1="72.4" y1="144.4" x2="72.4" y2="145.9" stroke="#8c8c8c" stroke-width="0.8"/>
<line x1="82.8" y1="226.3" x2="82.8" y2="224.8" stroke="#8c8c8c" stroke-width="0.8"/>
<line x1="82.8" y1="144.4" x2="82.8" y2="145.9" stroke="#8c8c8c" stroke-width="0.8"/>
<line x1="90.2" y1="226.3" x2="90.2" y2="224.8" stroke="#8c8c8c" stroke-width="0.8"/>
<line x1="90.2" y1="144.4" x2="90.2" y2="145.9" stroke="#8c8c8c" stroke-width="0.8"/>
<line x1="95.9" y1="226.3" x2="95.9" y2="224.8" stroke="#8c8c8c" stroke-width="0.8"/>
<line x1="95.9" y1="144.4" x2="95.9" y2="145.9" stroke="#8c8c8c" stroke-width="0.8"/>
<line x1="100.5" y1="226.3" x2="100.5" y2="224.8" stroke="#8c8c8c" stroke-width="0.8"/>
<line x1="100.5" y1="144.4" x2="100.5" y2="145.9" stroke="#8c8c8c" stroke-width="0.8"/>
<line x1="104.5" y1="226.3" x2="104.5" y2="224.8" stroke="#8c8c8c" stroke-width="0.8"/>
<line x1="104.5" y1="144.4" x2="104.5" y2="145.9" stroke="#8c8c8c" stroke-width="0.8"/>
<line x1="107.9" y1="226.3" x2="107.9" y2="224.8" stroke="#8c8c8c" stroke-width="0.8"/>
<line x1="107.9" y1="144.4" x2="107.9" y2="145.9" stroke="#8c8c8c" stroke-width="0.8"/>
<line x1="110.9" y1="226.3" x2="110.9" y2="224.8" stroke="#8c8c8c" stroke-width="0.8"/>
<line x1="110.9" y1="144.4" x2="110.9" y2="145.9" stroke="#8c8c8c" stroke-width="0.8"/>
<line x1="113.6" y1="226.3" x2="113.6" y2="223.8" stroke="#8c8c8c" stroke-width="0.8"/>
<line x1="113.6" y1="144.4" x2="113.6" y2="146.9" stroke="#8c8c8c" stroke-width="0.8"/>
<line x1="131.3" y1="226.3" x2="131.3" y2="224.8" stroke="#8c8c8c" stroke-width="0.8"/>
<line x1="131.3" y1="144.4" x2="131.3" y2="145.9" stroke="#8c8c8c" stroke-width="0.8"/>
<line x1="141.7" y1="226.3" x2="141.7" y2="224.8" stroke="#8c8c8c" stroke-width="0.8"/>
<line x1="141.7" y1="144.4" x2="141.7" y2="145.9" stroke="#8c8c8c" stroke-width="0.8"/>
<line x1="149.1" y1="226.3" x2="149.1" y2="224.8" stroke="#8c8c8c" stroke-width="0.8"/>
<line x1="149.1" y1="144.4" x2="149.1" y2="145.9" stroke="#8c8c8c" stroke-width="0.8"/>
<line x1="154.8" y1="226.3" x2="154.8" y2="224.8" stroke="#8c8c8c" stroke-width="0.8"/>
<line x1="154.8" y1="144.4" x2="154.8" y2="145.9" stroke="#8c8c8c" stroke-width="0.8"/>
<line x1="159.4" y1="226.3" x2="159.4" y2="224.8" stroke="#8c8c8c" stroke-width="0.8"/>
<line x1="159.4" y1="144.4" x2="159.4" y2="145.9" stroke="#8c8c8c" stroke-width="0.8"/>
<line x1="163.4" y1="226.3" x2="163.4" y2="224.8" stroke="#8c8c8c" stroke-width="0.8"/>
<line x1="163.4" y1="144.4" x2="163.4" y2="145.9" stroke="#8c8c8c" stroke-width="0.8"/>
<line x1="166.8" y1="226.3" x2="166.8" y2="224.8" stroke="#8c8c8c" stroke-width="0.8"/>
<line x1="166.8" y1="144.4" x2="166.8" y2="145.9" stroke="#8c8c8c" stroke-width="0.8"/>
<line x1="169.8" y1="226.3" x2="169.8" y2="224.8" stroke="#8c8c8c" stroke-width="0.8"/>
<line x1="169.8" y1="144.4" x2="169.8" y2="145.9" stroke="#8c8c8c" stroke-width="0.8"/>
<line x1="172.5" y1="226.3" x2="172.5" y2="223.8" stroke="#8c8c8c" stroke-width="0.8"/>
<line x1="172.5" y1="144.4" x2="172.5" y2="146.9" stroke="#8c8c8c" stroke-width="0.8"/>
<line x1="190.2" y1="226.3" x2="190.2" y2="224.8" stroke="#8c8c8c" stroke-width="0.8"/>
<line x1="190.2" y1="144.4" x2="190.2" y2="145.9" stroke="#8c8c8c" stroke-width="0.8"/>
<line x1="200.6" y1="226.3" x2="200.6" y2="224.8" stroke="#8c8c8c" stroke-width="0.8"/>
<line x1="200.6" y1="144.4" x2="200.6" y2="145.9" stroke="#8c8c8c" stroke-width="0.8"/>
<line x1="208.0" y1="226.3" x2="208.0" y2="224.8" stroke="#8c8c8c" stroke-width="0.8"/>
<line x1="208.0" y1="144.4" x2="208.0" y2="145.9" stroke="#8c8c8c" stroke-width="0.8"/>
<line x1="213.7" y1="226.3" x2="213.7" y2="224.8" stroke="#8c8c8c" stroke-width="0.8"/>
<line x1="213.7" y1="144.4" x2="213.7" y2="145.9" stroke="#8c8c8c" stroke-width="0.8"/>
<line x1="218.3" y1="226.3" x2="218.3" y2="224.8" stroke="#8c8c8c" stroke-width="0.8"/>
<line x1="218.3" y1="144.4" x2="218.3" y2="145.9" stroke="#8c8c8c" stroke-width="0.8"/>
<line x1="222.3" y1="226.3" x2="222.3" y2="224.8" stroke="#8c8c8c" stroke-width="0.8"/>
<line x1="222.3" y1="144.4" x2="222.3" y2="145.9" stroke="#8c8c8c" stroke-width="0.8"/>
<line x1="225.7" y1="226.3" x2="225.7" y2="224.8" stroke="#8c8c8c" stroke-width="0.8"/>
<line x1="225.7" y1="144.4" x2="225.7" y2="145.9" stroke="#8c8c8c" stroke-width="0.8"/>
<line x1="228.7" y1="226.3" x2="228.7" y2="224.8" stroke="#8c8c8c" stroke-width="0.8"/>
<line x1="228.7" y1="144.4" x2="228.7" y2="145.9" stroke="#8c8c8c" stroke-width="0.8"/>
<line x1="231.4" y1="226.3" x2="231.4" y2="223.8" stroke="#8c8c8c" stroke-width="0.8"/>
<line x1="231.4" y1="144.4" x2="231.4" y2="146.9" stroke="#8c8c8c" stroke-width="0.8"/>
<line x1="249.1" y1="226.3" x2="249.1" y2="224.8" stroke="#8c8c8c" stroke-width="0.8"/>
<line x1="249.1" y1="144.4" x2="249.1" y2="145.9" stroke="#8c8c8c" stroke-width="0.8"/>
<line x1="259.5" y1="226.3" x2="259.5" y2="224.8" stroke="#8c8c8c" stroke-width="0.8"/>
<line x1="259.5" y1="144.4" x2="259.5" y2="145.9" stroke="#8c8c8c" stroke-width="0.8"/>
<line x1="266.9" y1="226.3" x2="266.9" y2="224.8" stroke="#8c8c8c" stroke-width="0.8"/>
<line x1="266.9" y1="144.4" x2="266.9" y2="145.9" stroke="#8c8c8c" stroke-width="0.8"/>
<g clip-path="url(#cBL)">
<polyline points="54.7,155.3 272.5,155.3" fill="none" stroke="#6cc9c9" stroke-width="2.2" stroke-linejoin="round" stroke-linecap="round"/>
<polyline points="54.7,194.5 56.5,191.5 59.5,188.9 62.0,188.9 63.8,189.6 67.5,192.5 70.0,190.5 73.3,186.0 77.6,183.1 79.1,183.8 80.5,183.0 84.2,181.6 101.0,180.9 115.0,180.2 130.0,179.2 140.0,178.6 208.2,178.5 210.3,180.0 213.3,218.5 214.8,205.0 216.3,182.0 217.0,181.0 219.3,218.5 221.0,220.7 270.0,220.7 272.5,218.0" fill="none" stroke="#0a0a0a" stroke-width="2.6" stroke-linejoin="round" stroke-linecap="round"/>
</g>
<circle cx="55.4" cy="178.5" r="2.2" fill="none" stroke="#f2401e" stroke-width="2.8"/>
<circle cx="60.3" cy="178.5" r="2.2" fill="none" stroke="#f2401e" stroke-width="2.8"/>
<circle cx="65.3" cy="178.5" r="2.2" fill="none" stroke="#f2401e" stroke-width="2.8"/>
<circle cx="70.2" cy="178.5" r="2.2" fill="none" stroke="#f2401e" stroke-width="2.8"/>
<circle cx="75.2" cy="178.5" r="2.2" fill="none" stroke="#f2401e" stroke-width="2.8"/>
<circle cx="80.1" cy="178.5" r="2.2" fill="none" stroke="#f2401e" stroke-width="2.8"/>
<circle cx="85.1" cy="178.5" r="2.2" fill="none" stroke="#f2401e" stroke-width="2.8"/>
<circle cx="90.0" cy="178.5" r="2.2" fill="none" stroke="#f2401e" stroke-width="2.8"/>
<circle cx="95.0" cy="178.5" r="2.2" fill="none" stroke="#f2401e" stroke-width="2.8"/>
<circle cx="99.9" cy="178.5" r="2.2" fill="none" stroke="#f2401e" stroke-width="2.8"/>
<circle cx="104.8" cy="178.5" r="2.2" fill="none" stroke="#f2401e" stroke-width="2.8"/>
<circle cx="109.8" cy="178.5" r="2.2" fill="none" stroke="#f2401e" stroke-width="2.8"/>
<circle cx="114.7" cy="178.5" r="2.2" fill="none" stroke="#f2401e" stroke-width="2.8"/>
<circle cx="119.7" cy="178.5" r="2.2" fill="none" stroke="#f2401e" stroke-width="2.8"/>
<circle cx="124.6" cy="178.5" r="2.2" fill="none" stroke="#f2401e" stroke-width="2.8"/>
<circle cx="129.6" cy="178.5" r="2.2" fill="none" stroke="#f2401e" stroke-width="2.8"/>
<circle cx="134.5" cy="178.5" r="2.2" fill="none" stroke="#f2401e" stroke-width="2.8"/>
<circle cx="139.4" cy="178.5" r="2.2" fill="none" stroke="#f2401e" stroke-width="2.8"/>
<circle cx="144.4" cy="178.5" r="2.2" fill="none" stroke="#f2401e" stroke-width="2.8"/>
<circle cx="149.3" cy="178.5" r="2.2" fill="none" stroke="#f2401e" stroke-width="2.8"/>
<circle cx="154.3" cy="178.5" r="2.2" fill="none" stroke="#f2401e" stroke-width="2.8"/>
<circle cx="159.2" cy="178.5" r="2.2" fill="none" stroke="#f2401e" stroke-width="2.8"/>
<circle cx="164.2" cy="178.5" r="2.2" fill="none" stroke="#f2401e" stroke-width="2.8"/>
<circle cx="169.1" cy="178.5" r="2.2" fill="none" stroke="#f2401e" stroke-width="2.8"/>
<circle cx="174.1" cy="178.5" r="2.2" fill="none" stroke="#f2401e" stroke-width="2.8"/>
<circle cx="179.0" cy="178.5" r="2.2" fill="none" stroke="#f2401e" stroke-width="2.8"/>
<circle cx="183.9" cy="178.5" r="2.2" fill="none" stroke="#f2401e" stroke-width="2.8"/>
<circle cx="188.9" cy="178.5" r="2.2" fill="none" stroke="#f2401e" stroke-width="2.8"/>
<circle cx="193.8" cy="178.5" r="2.2" fill="none" stroke="#f2401e" stroke-width="2.8"/>
<circle cx="198.8" cy="178.5" r="2.2" fill="none" stroke="#f2401e" stroke-width="2.8"/>
<circle cx="203.7" cy="178.5" r="2.2" fill="none" stroke="#f2401e" stroke-width="2.8"/>
<circle cx="208.7" cy="178.5" r="2.2" fill="none" stroke="#f2401e" stroke-width="2.8"/>
<circle cx="213.6" cy="218.3" r="2.2" fill="none" stroke="#f2401e" stroke-width="2.8"/>
<circle cx="218.6" cy="218.3" r="2.2" fill="none" stroke="#f2401e" stroke-width="2.8"/>
<circle cx="223.5" cy="220.7" r="2.2" fill="none" stroke="#f2401e" stroke-width="2.8"/>
<circle cx="228.4" cy="220.7" r="2.2" fill="none" stroke="#f2401e" stroke-width="2.8"/>
<circle cx="233.4" cy="220.7" r="2.2" fill="none" stroke="#f2401e" stroke-width="2.8"/>
<circle cx="238.3" cy="220.7" r="2.2" fill="none" stroke="#f2401e" stroke-width="2.8"/>
<circle cx="243.3" cy="220.7" r="2.2" fill="none" stroke="#f2401e" stroke-width="2.8"/>
<circle cx="248.2" cy="220.7" r="2.2" fill="none" stroke="#f2401e" stroke-width="2.8"/>
<circle cx="253.2" cy="220.7" r="2.2" fill="none" stroke="#f2401e" stroke-width="2.8"/>
<circle cx="258.1" cy="220.7" r="2.2" fill="none" stroke="#f2401e" stroke-width="2.8"/>
<circle cx="263.0" cy="220.7" r="2.2" fill="none" stroke="#f2401e" stroke-width="2.8"/>
<circle cx="268.0" cy="220.7" r="2.2" fill="none" stroke="#f2401e" stroke-width="2.8"/>
<g clip-path="url(#cBL)">
<polyline points="54.7,155.2 124.6,155.2 129.6,155.3 134.5,155.3 139.4,155.4 144.4,155.4 149.3,155.6 154.3,155.8 159.2,156.1 164.2,156.3 169.1,156.5 174.1,156.7 179.0,157.1 183.9,157.4 188.9,157.8 193.8,158.2 198.8,158.6 203.7,159.1 208.7,159.5 209.5,160.0 210.9,161.7 213.6,195.0 216.8,163.8 219.5,198.0 222.0,194.5 225.0,191.5 230.0,188.2 233.5,187.2 237.0,187.6 245.0,192.6 251.0,197.8 257.0,204.0 261.0,209.5 265.0,217.0 268.5,226.5" fill="none" stroke="#a53aa5" stroke-width="2.2" stroke-linejoin="round" stroke-linecap="round"/>
</g>
<circle cx="55.4" cy="155.2" r="2.45" fill="none" stroke="#55c23a" stroke-width="2.35"/>
<circle cx="60.3" cy="155.2" r="2.45" fill="none" stroke="#55c23a" stroke-width="2.35"/>
<circle cx="65.3" cy="155.2" r="2.45" fill="none" stroke="#55c23a" stroke-width="2.35"/>
<circle cx="70.2" cy="155.2" r="2.45" fill="none" stroke="#55c23a" stroke-width="2.35"/>
<circle cx="75.2" cy="155.2" r="2.45" fill="none" stroke="#55c23a" stroke-width="2.35"/>
<circle cx="80.1" cy="155.2" r="2.45" fill="none" stroke="#55c23a" stroke-width="2.35"/>
<circle cx="85.1" cy="155.2" r="2.45" fill="none" stroke="#55c23a" stroke-width="2.35"/>
<circle cx="90.0" cy="155.2" r="2.45" fill="none" stroke="#55c23a" stroke-width="2.35"/>
<circle cx="95.0" cy="155.2" r="2.45" fill="none" stroke="#55c23a" stroke-width="2.35"/>
<circle cx="99.9" cy="155.2" r="2.45" fill="none" stroke="#55c23a" stroke-width="2.35"/>
<circle cx="104.8" cy="155.2" r="2.45" fill="none" stroke="#55c23a" stroke-width="2.35"/>
<circle cx="109.8" cy="155.2" r="2.45" fill="none" stroke="#55c23a" stroke-width="2.35"/>
<circle cx="114.7" cy="155.2" r="2.45" fill="none" stroke="#55c23a" stroke-width="2.35"/>
<circle cx="119.7" cy="155.2" r="2.45" fill="none" stroke="#55c23a" stroke-width="2.35"/>
<circle cx="124.6" cy="155.2" r="2.45" fill="none" stroke="#55c23a" stroke-width="2.35"/>
<circle cx="129.6" cy="155.3" r="2.45" fill="none" stroke="#55c23a" stroke-width="2.35"/>
<circle cx="134.5" cy="155.3" r="2.45" fill="none" stroke="#55c23a" stroke-width="2.35"/>
<circle cx="139.4" cy="155.4" r="2.45" fill="none" stroke="#55c23a" stroke-width="2.35"/>
<circle cx="144.4" cy="155.4" r="2.45" fill="none" stroke="#55c23a" stroke-width="2.35"/>
<circle cx="149.3" cy="155.6" r="2.45" fill="none" stroke="#55c23a" stroke-width="2.35"/>
<circle cx="154.3" cy="155.8" r="2.45" fill="none" stroke="#55c23a" stroke-width="2.35"/>
<circle cx="159.2" cy="156.1" r="2.45" fill="none" stroke="#55c23a" stroke-width="2.35"/>
<circle cx="164.2" cy="156.3" r="2.45" fill="none" stroke="#55c23a" stroke-width="2.35"/>
<circle cx="169.1" cy="156.5" r="2.45" fill="none" stroke="#55c23a" stroke-width="2.35"/>
<circle cx="174.1" cy="156.7" r="2.45" fill="none" stroke="#55c23a" stroke-width="2.35"/>
<circle cx="179.0" cy="157.1" r="2.45" fill="none" stroke="#55c23a" stroke-width="2.35"/>
<circle cx="183.9" cy="157.4" r="2.45" fill="none" stroke="#55c23a" stroke-width="2.35"/>
<circle cx="188.9" cy="157.8" r="2.45" fill="none" stroke="#55c23a" stroke-width="2.35"/>
<circle cx="193.8" cy="158.2" r="2.45" fill="none" stroke="#55c23a" stroke-width="2.35"/>
<circle cx="198.8" cy="158.6" r="2.45" fill="none" stroke="#55c23a" stroke-width="2.35"/>
<circle cx="203.7" cy="159.1" r="2.45" fill="none" stroke="#55c23a" stroke-width="2.35"/>
<circle cx="208.7" cy="159.5" r="2.45" fill="none" stroke="#55c23a" stroke-width="2.35"/>
<circle cx="213.6" cy="192.1" r="2.45" fill="none" stroke="#55c23a" stroke-width="2.35"/>
<circle cx="218.6" cy="198.1" r="2.45" fill="none" stroke="#55c23a" stroke-width="2.35"/>
<circle cx="223.5" cy="188.4" r="2.45" fill="none" stroke="#55c23a" stroke-width="2.35"/>
<circle cx="228.4" cy="179.4" r="2.45" fill="none" stroke="#55c23a" stroke-width="2.35"/>
<circle cx="233.4" cy="178.6" r="2.45" fill="none" stroke="#55c23a" stroke-width="2.35"/>
<circle cx="238.3" cy="180.8" r="2.45" fill="none" stroke="#55c23a" stroke-width="2.35"/>
<circle cx="243.3" cy="184.0" r="2.45" fill="none" stroke="#55c23a" stroke-width="2.35"/>
<circle cx="248.2" cy="187.7" r="2.45" fill="none" stroke="#55c23a" stroke-width="2.35"/>
<circle cx="253.2" cy="192.5" r="2.45" fill="none" stroke="#55c23a" stroke-width="2.35"/>
<circle cx="258.1" cy="199.2" r="2.45" fill="none" stroke="#55c23a" stroke-width="2.35"/>
<circle cx="263.0" cy="205.6" r="2.45" fill="none" stroke="#55c23a" stroke-width="2.35"/>
<circle cx="268.0" cy="212.7" r="2.45" fill="none" stroke="#55c23a" stroke-width="2.35"/>
<text x="48.9" y="160.6" font-size="14" text-anchor="end" fill="#262626">-180</text>
<text x="48.9" y="182.9" font-size="14" text-anchor="end" fill="#262626">-270</text>
<text x="48.9" y="205.2" font-size="14" text-anchor="end" fill="#262626">-360</text>
<text x="48.9" y="227.5" font-size="14" text-anchor="end" fill="#262626">-450</text>
<text x="45.1" y="250.0" font-size="14" fill="#262626">10</text>
<text x="58.0" y="242.8" font-size="11.5" fill="#262626">0</text>
<text x="104.0" y="250.0" font-size="14" fill="#262626">10</text>
<text x="116.9" y="242.8" font-size="11.5" fill="#262626">1</text>
<text x="162.9" y="250.0" font-size="14" fill="#262626">10</text>
<text x="175.8" y="242.8" font-size="11.5" fill="#262626">2</text>
<text x="221.8" y="250.0" font-size="14" fill="#262626">10</text>
<text x="234.7" y="242.8" font-size="11.5" fill="#262626">3</text>
<text x="15.8" y="185.3" font-size="14.3" text-anchor="middle" fill="#262626" style="stroke:none" transform="rotate(-90 15.8 185.3)">Phase (deg)</text>
<rect x="79" y="184" width="121" height="40.30000000000001" fill="#fff"/>
<polyline points="81.4,191.8 102.3,191.8" fill="none" stroke="#a53aa5" stroke-width="2" stroke-linejoin="round" stroke-linecap="butt"/>
<text class="lg" x="106.6" y="198.7" font-size="16.8" font-style="italic" fill="#262626">Y</text>
<text class="lg" x="118.4" y="190.6" font-size="9.6" fill="#262626">Vin-FF</text>
<text class="lg" x="114.6" y="202.7" font-size="9.8" fill="#262626">in</text>
<text class="lg" x="156.2" y="198.8" font-size="16.6" fill="#262626">HIL</text>
<circle cx="91.0" cy="213.6" r="2.0" fill="none" stroke="#55c23a" stroke-width="1.5"/>
<text class="lg" x="106.6" y="219.6" font-size="16.8" font-style="italic" fill="#262626">Y</text>
<text class="lg" x="118.4" y="212.4" font-size="9.6" fill="#262626">Vin-FF</text>
<text class="lg" x="114.6" y="223.6" font-size="9.8" fill="#262626">in</text>
<text class="lg" x="156.2" y="219.3" font-size="16.6" fill="#262626">model</text>
<line x1="327.0" y1="156.0" x2="544.5" y2="156.0" stroke="#e3e3e3" stroke-width="1"/>
<line x1="327.0" y1="179.4" x2="544.5" y2="179.4" stroke="#e3e3e3" stroke-width="1"/>
<line x1="327.0" y1="202.9" x2="544.5" y2="202.9" stroke="#e3e3e3" stroke-width="1"/>
<line x1="344.7" y1="144.6" x2="344.7" y2="226.3" stroke="#707070" stroke-width="0.9" stroke-dasharray="1 2.2"/>
<line x1="355.1" y1="144.6" x2="355.1" y2="226.3" stroke="#707070" stroke-width="0.9" stroke-dasharray="1 2.2"/>
<line x1="362.5" y1="144.6" x2="362.5" y2="226.3" stroke="#707070" stroke-width="0.9" stroke-dasharray="1 2.2"/>
<line x1="368.2" y1="144.6" x2="368.2" y2="226.3" stroke="#707070" stroke-width="0.9" stroke-dasharray="1 2.2"/>
<line x1="372.8" y1="144.6" x2="372.8" y2="226.3" stroke="#707070" stroke-width="0.9" stroke-dasharray="1 2.2"/>
<line x1="376.8" y1="144.6" x2="376.8" y2="226.3" stroke="#707070" stroke-width="0.9" stroke-dasharray="1 2.2"/>
<line x1="380.2" y1="144.6" x2="380.2" y2="226.3" stroke="#707070" stroke-width="0.9" stroke-dasharray="1 2.2"/>
<line x1="383.2" y1="144.6" x2="383.2" y2="226.3" stroke="#707070" stroke-width="0.9" stroke-dasharray="1 2.2"/>
<line x1="385.9" y1="144.4" x2="385.9" y2="226.3" stroke="#a8a8a8" stroke-width="1"/>
<line x1="403.6" y1="144.6" x2="403.6" y2="226.3" stroke="#707070" stroke-width="0.9" stroke-dasharray="1 2.2"/>
<line x1="414.0" y1="144.6" x2="414.0" y2="226.3" stroke="#707070" stroke-width="0.9" stroke-dasharray="1 2.2"/>
<line x1="421.4" y1="144.6" x2="421.4" y2="226.3" stroke="#707070" stroke-width="0.9" stroke-dasharray="1 2.2"/>
<line x1="427.1" y1="144.6" x2="427.1" y2="226.3" stroke="#707070" stroke-width="0.9" stroke-dasharray="1 2.2"/>
<line x1="431.7" y1="144.6" x2="431.7" y2="226.3" stroke="#707070" stroke-width="0.9" stroke-dasharray="1 2.2"/>
<line x1="435.7" y1="144.6" x2="435.7" y2="226.3" stroke="#707070" stroke-width="0.9" stroke-dasharray="1 2.2"/>
<line x1="439.1" y1="144.6" x2="439.1" y2="226.3" stroke="#707070" stroke-width="0.9" stroke-dasharray="1 2.2"/>
<line x1="442.1" y1="144.6" x2="442.1" y2="226.3" stroke="#707070" stroke-width="0.9" stroke-dasharray="1 2.2"/>
<line x1="444.8" y1="144.4" x2="444.8" y2="226.3" stroke="#a8a8a8" stroke-width="1"/>
<line x1="462.5" y1="144.6" x2="462.5" y2="226.3" stroke="#707070" stroke-width="0.9" stroke-dasharray="1 2.2"/>
<line x1="472.9" y1="144.6" x2="472.9" y2="226.3" stroke="#707070" stroke-width="0.9" stroke-dasharray="1 2.2"/>
<line x1="480.3" y1="144.6" x2="480.3" y2="226.3" stroke="#707070" stroke-width="0.9" stroke-dasharray="1 2.2"/>
<line x1="486.0" y1="144.6" x2="486.0" y2="226.3" stroke="#707070" stroke-width="0.9" stroke-dasharray="1 2.2"/>
<line x1="490.6" y1="144.6" x2="490.6" y2="226.3" stroke="#707070" stroke-width="0.9" stroke-dasharray="1 2.2"/>
<line x1="494.6" y1="144.6" x2="494.6" y2="226.3" stroke="#707070" stroke-width="0.9" stroke-dasharray="1 2.2"/>
<line x1="498.0" y1="144.6" x2="498.0" y2="226.3" stroke="#707070" stroke-width="0.9" stroke-dasharray="1 2.2"/>
<line x1="501.0" y1="144.6" x2="501.0" y2="226.3" stroke="#707070" stroke-width="0.9" stroke-dasharray="1 2.2"/>
<line x1="503.7" y1="144.4" x2="503.7" y2="226.3" stroke="#a8a8a8" stroke-width="1"/>
<line x1="521.4" y1="144.6" x2="521.4" y2="226.3" stroke="#707070" stroke-width="0.9" stroke-dasharray="1 2.2"/>
<line x1="531.8" y1="144.6" x2="531.8" y2="226.3" stroke="#707070" stroke-width="0.9" stroke-dasharray="1 2.2"/>
<line x1="539.2" y1="144.6" x2="539.2" y2="226.3" stroke="#707070" stroke-width="0.9" stroke-dasharray="1 2.2"/>
<rect x="327.0" y="144.4" width="217.5" height="81.9" fill="none" stroke="#8c8c8c" stroke-width="1"/>
<line x1="327.0" y1="156.0" x2="329.5" y2="156.0" stroke="#8c8c8c" stroke-width="1"/>
<line x1="542.0" y1="156.0" x2="544.5" y2="156.0" stroke="#8c8c8c" stroke-width="1"/>
<line x1="327.0" y1="179.4" x2="329.5" y2="179.4" stroke="#8c8c8c" stroke-width="1"/>
<line x1="542.0" y1="179.4" x2="544.5" y2="179.4" stroke="#8c8c8c" stroke-width="1"/>
<line x1="327.0" y1="202.9" x2="329.5" y2="202.9" stroke="#8c8c8c" stroke-width="1"/>
<line x1="542.0" y1="202.9" x2="544.5" y2="202.9" stroke="#8c8c8c" stroke-width="1"/>
<line x1="327.0" y1="226.3" x2="329.5" y2="226.3" stroke="#8c8c8c" stroke-width="1"/>
<line x1="542.0" y1="226.3" x2="544.5" y2="226.3" stroke="#8c8c8c" stroke-width="1"/>
<line x1="327.0" y1="226.3" x2="327.0" y2="223.8" stroke="#8c8c8c" stroke-width="0.8"/>
<line x1="327.0" y1="144.4" x2="327.0" y2="146.9" stroke="#8c8c8c" stroke-width="0.8"/>
<line x1="344.7" y1="226.3" x2="344.7" y2="224.8" stroke="#8c8c8c" stroke-width="0.8"/>
<line x1="344.7" y1="144.4" x2="344.7" y2="145.9" stroke="#8c8c8c" stroke-width="0.8"/>
<line x1="355.1" y1="226.3" x2="355.1" y2="224.8" stroke="#8c8c8c" stroke-width="0.8"/>
<line x1="355.1" y1="144.4" x2="355.1" y2="145.9" stroke="#8c8c8c" stroke-width="0.8"/>
<line x1="362.5" y1="226.3" x2="362.5" y2="224.8" stroke="#8c8c8c" stroke-width="0.8"/>
<line x1="362.5" y1="144.4" x2="362.5" y2="145.9" stroke="#8c8c8c" stroke-width="0.8"/>
<line x1="368.2" y1="226.3" x2="368.2" y2="224.8" stroke="#8c8c8c" stroke-width="0.8"/>
<line x1="368.2" y1="144.4" x2="368.2" y2="145.9" stroke="#8c8c8c" stroke-width="0.8"/>
<line x1="372.8" y1="226.3" x2="372.8" y2="224.8" stroke="#8c8c8c" stroke-width="0.8"/>
<line x1="372.8" y1="144.4" x2="372.8" y2="145.9" stroke="#8c8c8c" stroke-width="0.8"/>
<line x1="376.8" y1="226.3" x2="376.8" y2="224.8" stroke="#8c8c8c" stroke-width="0.8"/>
<line x1="376.8" y1="144.4" x2="376.8" y2="145.9" stroke="#8c8c8c" stroke-width="0.8"/>
<line x1="380.2" y1="226.3" x2="380.2" y2="224.8" stroke="#8c8c8c" stroke-width="0.8"/>
<line x1="380.2" y1="144.4" x2="380.2" y2="145.9" stroke="#8c8c8c" stroke-width="0.8"/>
<line x1="383.2" y1="226.3" x2="383.2" y2="224.8" stroke="#8c8c8c" stroke-width="0.8"/>
<line x1="383.2" y1="144.4" x2="383.2" y2="145.9" stroke="#8c8c8c" stroke-width="0.8"/>
<line x1="385.9" y1="226.3" x2="385.9" y2="223.8" stroke="#8c8c8c" stroke-width="0.8"/>
<line x1="385.9" y1="144.4" x2="385.9" y2="146.9" stroke="#8c8c8c" stroke-width="0.8"/>
<line x1="403.6" y1="226.3" x2="403.6" y2="224.8" stroke="#8c8c8c" stroke-width="0.8"/>
<line x1="403.6" y1="144.4" x2="403.6" y2="145.9" stroke="#8c8c8c" stroke-width="0.8"/>
<line x1="414.0" y1="226.3" x2="414.0" y2="224.8" stroke="#8c8c8c" stroke-width="0.8"/>
<line x1="414.0" y1="144.4" x2="414.0" y2="145.9" stroke="#8c8c8c" stroke-width="0.8"/>
<line x1="421.4" y1="226.3" x2="421.4" y2="224.8" stroke="#8c8c8c" stroke-width="0.8"/>
<line x1="421.4" y1="144.4" x2="421.4" y2="145.9" stroke="#8c8c8c" stroke-width="0.8"/>
<line x1="427.1" y1="226.3" x2="427.1" y2="224.8" stroke="#8c8c8c" stroke-width="0.8"/>
<line x1="427.1" y1="144.4" x2="427.1" y2="145.9" stroke="#8c8c8c" stroke-width="0.8"/>
<line x1="431.7" y1="226.3" x2="431.7" y2="224.8" stroke="#8c8c8c" stroke-width="0.8"/>
<line x1="431.7" y1="144.4" x2="431.7" y2="145.9" stroke="#8c8c8c" stroke-width="0.8"/>
<line x1="435.7" y1="226.3" x2="435.7" y2="224.8" stroke="#8c8c8c" stroke-width="0.8"/>
<line x1="435.7" y1="144.4" x2="435.7" y2="145.9" stroke="#8c8c8c" stroke-width="0.8"/>
<line x1="439.1" y1="226.3" x2="439.1" y2="224.8" stroke="#8c8c8c" stroke-width="0.8"/>
<line x1="439.1" y1="144.4" x2="439.1" y2="145.9" stroke="#8c8c8c" stroke-width="0.8"/>
<line x1="442.1" y1="226.3" x2="442.1" y2="224.8" stroke="#8c8c8c" stroke-width="0.8"/>
<line x1="442.1" y1="144.4" x2="442.1" y2="145.9" stroke="#8c8c8c" stroke-width="0.8"/>
<line x1="444.8" y1="226.3" x2="444.8" y2="223.8" stroke="#8c8c8c" stroke-width="0.8"/>
<line x1="444.8" y1="144.4" x2="444.8" y2="146.9" stroke="#8c8c8c" stroke-width="0.8"/>
<line x1="462.5" y1="226.3" x2="462.5" y2="224.8" stroke="#8c8c8c" stroke-width="0.8"/>
<line x1="462.5" y1="144.4" x2="462.5" y2="145.9" stroke="#8c8c8c" stroke-width="0.8"/>
<line x1="472.9" y1="226.3" x2="472.9" y2="224.8" stroke="#8c8c8c" stroke-width="0.8"/>
<line x1="472.9" y1="144.4" x2="472.9" y2="145.9" stroke="#8c8c8c" stroke-width="0.8"/>
<line x1="480.3" y1="226.3" x2="480.3" y2="224.8" stroke="#8c8c8c" stroke-width="0.8"/>
<line x1="480.3" y1="144.4" x2="480.3" y2="145.9" stroke="#8c8c8c" stroke-width="0.8"/>
<line x1="486.0" y1="226.3" x2="486.0" y2="224.8" stroke="#8c8c8c" stroke-width="0.8"/>
<line x1="486.0" y1="144.4" x2="486.0" y2="145.9" stroke="#8c8c8c" stroke-width="0.8"/>
<line x1="490.6" y1="226.3" x2="490.6" y2="224.8" stroke="#8c8c8c" stroke-width="0.8"/>
<line x1="490.6" y1="144.4" x2="490.6" y2="145.9" stroke="#8c8c8c" stroke-width="0.8"/>
<line x1="494.6" y1="226.3" x2="494.6" y2="224.8" stroke="#8c8c8c" stroke-width="0.8"/>
<line x1="494.6" y1="144.4" x2="494.6" y2="145.9" stroke="#8c8c8c" stroke-width="0.8"/>
<line x1="498.0" y1="226.3" x2="498.0" y2="224.8" stroke="#8c8c8c" stroke-width="0.8"/>
<line x1="498.0" y1="144.4" x2="498.0" y2="145.9" stroke="#8c8c8c" stroke-width="0.8"/>
<line x1="501.0" y1="226.3" x2="501.0" y2="224.8" stroke="#8c8c8c" stroke-width="0.8"/>
<line x1="501.0" y1="144.4" x2="501.0" y2="145.9" stroke="#8c8c8c" stroke-width="0.8"/>
<line x1="503.7" y1="226.3" x2="503.7" y2="223.8" stroke="#8c8c8c" stroke-width="0.8"/>
<line x1="503.7" y1="144.4" x2="503.7" y2="146.9" stroke="#8c8c8c" stroke-width="0.8"/>
<line x1="521.4" y1="226.3" x2="521.4" y2="224.8" stroke="#8c8c8c" stroke-width="0.8"/>
<line x1="521.4" y1="144.4" x2="521.4" y2="145.9" stroke="#8c8c8c" stroke-width="0.8"/>
<line x1="531.8" y1="226.3" x2="531.8" y2="224.8" stroke="#8c8c8c" stroke-width="0.8"/>
<line x1="531.8" y1="144.4" x2="531.8" y2="145.9" stroke="#8c8c8c" stroke-width="0.8"/>
<line x1="539.2" y1="226.3" x2="539.2" y2="224.8" stroke="#8c8c8c" stroke-width="0.8"/>
<line x1="539.2" y1="144.4" x2="539.2" y2="145.9" stroke="#8c8c8c" stroke-width="0.8"/>
<g clip-path="url(#cBR)">
<polyline points="327.0,155.8 544.5,155.8" fill="none" stroke="#6cc9c9" stroke-width="2.2" stroke-linejoin="round" stroke-linecap="round"/>
<polyline points="327.0,155.9 375.0,155.9 385.0,156.3 392.0,156.8 400.0,157.6 410.0,160.0 420.0,164.0 430.0,166.8 440.0,167.2 450.0,165.6 463.0,164.0 472.0,164.2 480.0,165.2 489.0,167.9 496.6,175.2 501.5,182.5 505.2,192.6 510.2,205.5 516.1,214.0 524.5,221.8 530.3,227.8" fill="none" stroke="#0a0a0a" stroke-width="2.6" stroke-linejoin="round" stroke-linecap="round"/>
</g>
<circle cx="332.5" cy="155.9" r="2.2" fill="none" stroke="#f2401e" stroke-width="2.5"/>
<circle cx="342.8" cy="155.9" r="2.2" fill="none" stroke="#f2401e" stroke-width="2.5"/>
<circle cx="353.1" cy="155.9" r="2.2" fill="none" stroke="#f2401e" stroke-width="2.5"/>
<circle cx="363.4" cy="155.9" r="2.2" fill="none" stroke="#f2401e" stroke-width="2.5"/>
<circle cx="373.7" cy="155.9" r="2.2" fill="none" stroke="#f2401e" stroke-width="2.5"/>
<circle cx="384.0" cy="156.6" r="2.2" fill="none" stroke="#f2401e" stroke-width="2.5"/>
<circle cx="394.3" cy="157.0" r="2.2" fill="none" stroke="#f2401e" stroke-width="2.5"/>
<circle cx="404.6" cy="159.0" r="2.2" fill="none" stroke="#f2401e" stroke-width="2.5"/>
<circle cx="414.9" cy="161.9" r="2.2" fill="none" stroke="#f2401e" stroke-width="2.5"/>
<circle cx="425.2" cy="166.3" r="2.2" fill="none" stroke="#f2401e" stroke-width="2.5"/>
<circle cx="435.5" cy="167.4" r="2.2" fill="none" stroke="#f2401e" stroke-width="2.5"/>
<circle cx="445.8" cy="166.3" r="2.2" fill="none" stroke="#f2401e" stroke-width="2.5"/>
<circle cx="456.1" cy="165.5" r="2.2" fill="none" stroke="#f2401e" stroke-width="2.5"/>
<circle cx="466.4" cy="165.2" r="2.2" fill="none" stroke="#f2401e" stroke-width="2.5"/>
<circle cx="476.7" cy="166.8" r="2.2" fill="none" stroke="#f2401e" stroke-width="2.5"/>
<circle cx="487.0" cy="170.6" r="2.2" fill="none" stroke="#f2401e" stroke-width="2.5"/>
<circle cx="497.3" cy="179.4" r="2.2" fill="none" stroke="#f2401e" stroke-width="2.5"/>
<circle cx="507.6" cy="197.6" r="2.2" fill="none" stroke="#f2401e" stroke-width="2.5"/>
<circle cx="517.9" cy="215.6" r="2.2" fill="none" stroke="#f2401e" stroke-width="2.5"/>
<circle cx="528.2" cy="225.0" r="2.2" fill="none" stroke="#f2401e" stroke-width="2.5"/>
<g clip-path="url(#cBR)">
<polyline points="327.0,155.9 440.0,155.9 456.0,156.5 466.0,157.2 476.0,158.3 487.0,159.6 495.0,161.6 500.0,165.0 503.0,171.0 505.5,180.0 510.0,189.0 516.0,200.0 521.0,207.0 527.0,213.6 532.0,219.5 536.2,225.3 537.5,228.0" fill="none" stroke="#a53aa5" stroke-width="2.2" stroke-linejoin="round" stroke-linecap="round"/>
</g>
<circle cx="332.5" cy="155.9" r="2.3" fill="none" stroke="#55c23a" stroke-width="2.2"/>
<circle cx="342.8" cy="155.9" r="2.3" fill="none" stroke="#55c23a" stroke-width="2.2"/>
<circle cx="353.1" cy="155.9" r="2.3" fill="none" stroke="#55c23a" stroke-width="2.2"/>
<circle cx="363.4" cy="155.9" r="2.3" fill="none" stroke="#55c23a" stroke-width="2.2"/>
<circle cx="373.7" cy="155.9" r="2.3" fill="none" stroke="#55c23a" stroke-width="2.2"/>
<circle cx="384.0" cy="155.9" r="2.3" fill="none" stroke="#55c23a" stroke-width="2.2"/>
<circle cx="394.3" cy="155.9" r="2.3" fill="none" stroke="#55c23a" stroke-width="2.2"/>
<circle cx="404.6" cy="155.9" r="2.3" fill="none" stroke="#55c23a" stroke-width="2.2"/>
<circle cx="414.9" cy="155.9" r="2.3" fill="none" stroke="#55c23a" stroke-width="2.2"/>
<circle cx="425.2" cy="155.9" r="2.3" fill="none" stroke="#55c23a" stroke-width="2.2"/>
<circle cx="435.5" cy="155.9" r="2.3" fill="none" stroke="#55c23a" stroke-width="2.2"/>
<circle cx="445.8" cy="156.1" r="2.3" fill="none" stroke="#55c23a" stroke-width="2.2"/>
<circle cx="456.1" cy="157.0" r="2.3" fill="none" stroke="#55c23a" stroke-width="2.2"/>
<circle cx="466.4" cy="157.5" r="2.3" fill="none" stroke="#55c23a" stroke-width="2.2"/>
<circle cx="476.7" cy="158.6" r="2.3" fill="none" stroke="#55c23a" stroke-width="2.2"/>
<circle cx="487.0" cy="159.5" r="2.3" fill="none" stroke="#55c23a" stroke-width="2.2"/>
<circle cx="497.3" cy="163.9" r="2.3" fill="none" stroke="#55c23a" stroke-width="2.2"/>
<circle cx="507.6" cy="179.8" r="2.3" fill="none" stroke="#55c23a" stroke-width="2.2"/>
<circle cx="517.9" cy="196.4" r="2.3" fill="none" stroke="#55c23a" stroke-width="2.2"/>
<circle cx="528.2" cy="206.8" r="2.3" fill="none" stroke="#55c23a" stroke-width="2.2"/>
<circle cx="538.5" cy="219.4" r="2.3" fill="none" stroke="#55c23a" stroke-width="2.2"/>
<text x="321.0" y="161.3" font-size="14" text-anchor="end" fill="#262626">-180</text>
<text x="321.0" y="184.7" font-size="14" text-anchor="end" fill="#262626">-270</text>
<text x="321.0" y="208.2" font-size="14" text-anchor="end" fill="#262626">-360</text>
<text x="321.0" y="231.6" font-size="14" text-anchor="end" fill="#262626">-450</text>
<text x="317.4" y="250.0" font-size="14" fill="#262626">10</text>
<text x="330.3" y="242.8" font-size="11.5" fill="#262626">0</text>
<text x="376.3" y="250.0" font-size="14" fill="#262626">10</text>
<text x="389.2" y="242.8" font-size="11.5" fill="#262626">1</text>
<text x="435.2" y="250.0" font-size="14" fill="#262626">10</text>
<text x="448.1" y="242.8" font-size="11.5" fill="#262626">2</text>
<text x="494.1" y="250.0" font-size="14" fill="#262626">10</text>
<text x="507.0" y="242.8" font-size="11.5" fill="#262626">3</text>
<text x="287.8" y="185.6" font-size="14.3" text-anchor="middle" fill="#262626" style="stroke:none" transform="rotate(-90 287.8 185.6)">Phase (deg)</text>
<rect x="329" y="171" width="133.5" height="53.30000000000001" fill="#fff"/>
<polyline points="332.0,182.7 352.8,182.7" fill="none" stroke="#a53aa5" stroke-width="2" stroke-linejoin="round" stroke-linecap="butt"/>
<text class="lg" x="357.4" y="190.1" font-size="16.8" font-style="italic" fill="#262626">Y</text>
<text class="lg" x="369.2" y="182.5" font-size="9.8" fill="#262626">tot-Vin-FF</text>
<text class="lg" x="365.5" y="193.7" font-size="9.8" fill="#262626">in</text>
<text class="lg" x="420.2" y="190.1" font-size="16.9" fill="#262626">HIL</text>
<circle cx="341.1" cy="208.2" r="2.0" fill="none" stroke="#55c23a" stroke-width="1.5"/>
<text class="lg" x="357.4" y="214.3" font-size="16.8" font-style="italic" fill="#262626">Y</text>
<text class="lg" x="369.2" y="206.6" font-size="9.8" fill="#262626">tot-Vin-FF</text>
<text class="lg" x="365.5" y="218.3" font-size="9.8" fill="#262626">in</text>
<text class="lg" x="420.2" y="214.3" font-size="16.9" fill="#262626">model</text>
<text x="163.7" y="268.3" font-size="14.3" text-anchor="middle" fill="#262626">Frequency (Hz)</text>
<text x="435.9" y="268.4" font-size="14.3" text-anchor="middle" fill="#262626">Frequency (Hz)</text>
<text x="140.2" y="291.5" font-size="12.2" letter-spacing="-0.4" text-anchor="middle" fill="#262626" style="stroke:none">(<tspan font-weight="bold">a</tspan>)</text>
<text x="412.0" y="291.5" font-size="12.2" letter-spacing="-0.4" text-anchor="middle" fill="#262626" style="stroke:none">(<tspan font-weight="bold">b</tspan>)</text>
</svg>
</body></html>
